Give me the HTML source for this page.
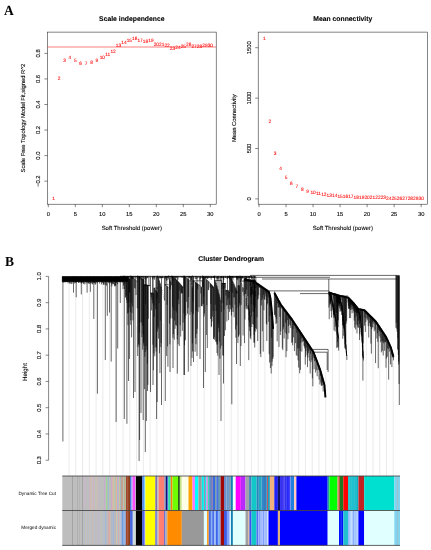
<!DOCTYPE html>
<html lang="en">
<head>
<meta charset="utf-8">
<title>WGCNA soft threshold and cluster dendrogram</title>
<style>
html,body{margin:0;padding:0;background:#fff;}
body{width:431px;height:550px;overflow:hidden;}
svg{display:block;filter:blur(0.22px);}
text{white-space:pre;text-rendering:geometricPrecision;}
</style>
</head>
<body>
<svg width="431" height="550" viewBox="0 0 431 550">
<rect width="431" height="550" fill="#fff"/>
<g font-family='"Liberation Sans", sans-serif' fill="#000" stroke="#000" stroke-width="0.1" paint-order="stroke">
<rect x="47.40" y="32.10" width="168.80" height="172.10" fill="none" stroke="#222" stroke-width="0.55"/>
<line x1="48.30" y1="204.20" x2="48.30" y2="207.20" stroke="#222" stroke-width="0.55"/>
<text x="48.30" y="215.90" font-size="5.8" text-anchor="middle">0</text>
<line x1="75.30" y1="204.20" x2="75.30" y2="207.20" stroke="#222" stroke-width="0.55"/>
<text x="75.30" y="215.90" font-size="5.8" text-anchor="middle">5</text>
<line x1="102.30" y1="204.20" x2="102.30" y2="207.20" stroke="#222" stroke-width="0.55"/>
<text x="102.30" y="215.90" font-size="5.8" text-anchor="middle">10</text>
<line x1="129.30" y1="204.20" x2="129.30" y2="207.20" stroke="#222" stroke-width="0.55"/>
<text x="129.30" y="215.90" font-size="5.8" text-anchor="middle">15</text>
<line x1="156.30" y1="204.20" x2="156.30" y2="207.20" stroke="#222" stroke-width="0.55"/>
<text x="156.30" y="215.90" font-size="5.8" text-anchor="middle">20</text>
<line x1="183.30" y1="204.20" x2="183.30" y2="207.20" stroke="#222" stroke-width="0.55"/>
<text x="183.30" y="215.90" font-size="5.8" text-anchor="middle">25</text>
<line x1="210.30" y1="204.20" x2="210.30" y2="207.20" stroke="#222" stroke-width="0.55"/>
<text x="210.30" y="215.90" font-size="5.8" text-anchor="middle">30</text>
<line x1="44.40" y1="53.40" x2="47.40" y2="53.40" stroke="#222" stroke-width="0.55"/>
<text transform="translate(39.80,53.40) rotate(-90)" font-size="5.8" text-anchor="middle">0.8</text>
<line x1="44.40" y1="78.95" x2="47.40" y2="78.95" stroke="#222" stroke-width="0.55"/>
<text transform="translate(39.80,78.95) rotate(-90)" font-size="5.8" text-anchor="middle">0.6</text>
<line x1="44.40" y1="104.50" x2="47.40" y2="104.50" stroke="#222" stroke-width="0.55"/>
<text transform="translate(39.80,104.50) rotate(-90)" font-size="5.8" text-anchor="middle">0.4</text>
<line x1="44.40" y1="130.05" x2="47.40" y2="130.05" stroke="#222" stroke-width="0.55"/>
<text transform="translate(39.80,130.05) rotate(-90)" font-size="5.8" text-anchor="middle">0.2</text>
<line x1="44.40" y1="155.60" x2="47.40" y2="155.60" stroke="#222" stroke-width="0.55"/>
<text transform="translate(39.80,155.60) rotate(-90)" font-size="5.8" text-anchor="middle">0.0</text>
<line x1="44.40" y1="181.15" x2="47.40" y2="181.15" stroke="#222" stroke-width="0.55"/>
<text transform="translate(39.80,181.15) rotate(-90)" font-size="5.8" text-anchor="middle">−0.2</text>
<text x="131.80" y="21.2" font-size="6.8" font-weight="bold" text-anchor="middle">Scale independence</text>
<text x="131.80" y="229.5" font-size="5.95" text-anchor="middle">Soft Threshold (power)</text>
<text transform="translate(25.20,118.15) rotate(-90)" font-size="5.8" text-anchor="middle">Scale Free Topology Model Fit,signed R^2</text>
<line x1="47.40" y1="47.00" x2="216.20" y2="47.00" stroke="#ff2a2a" stroke-width="0.6"/>
<text x="53.70" y="199.55" font-size="4.8" fill="#ff0808" stroke="#ff0808" stroke-width="0.08" text-anchor="middle">1</text>
<text x="59.10" y="80.05" font-size="4.8" fill="#ff0808" stroke="#ff0808" stroke-width="0.08" text-anchor="middle">2</text>
<text x="64.50" y="61.55" font-size="4.8" fill="#ff0808" stroke="#ff0808" stroke-width="0.08" text-anchor="middle">3</text>
<text x="69.90" y="58.55" font-size="4.8" fill="#ff0808" stroke="#ff0808" stroke-width="0.08" text-anchor="middle">4</text>
<text x="75.30" y="62.25" font-size="4.8" fill="#ff0808" stroke="#ff0808" stroke-width="0.08" text-anchor="middle">5</text>
<text x="80.70" y="64.95" font-size="4.8" fill="#ff0808" stroke="#ff0808" stroke-width="0.08" text-anchor="middle">6</text>
<text x="86.10" y="65.25" font-size="4.8" fill="#ff0808" stroke="#ff0808" stroke-width="0.08" text-anchor="middle">7</text>
<text x="91.50" y="64.05" font-size="4.8" fill="#ff0808" stroke="#ff0808" stroke-width="0.08" text-anchor="middle">8</text>
<text x="96.90" y="61.65" font-size="4.8" fill="#ff0808" stroke="#ff0808" stroke-width="0.08" text-anchor="middle">9</text>
<text x="102.30" y="58.75" font-size="4.8" fill="#ff0808" stroke="#ff0808" stroke-width="0.08" text-anchor="middle">10</text>
<text x="107.70" y="55.95" font-size="4.8" fill="#ff0808" stroke="#ff0808" stroke-width="0.08" text-anchor="middle">11</text>
<text x="113.10" y="52.95" font-size="4.8" fill="#ff0808" stroke="#ff0808" stroke-width="0.08" text-anchor="middle">12</text>
<text x="118.50" y="47.45" font-size="4.8" fill="#ff0808" stroke="#ff0808" stroke-width="0.08" text-anchor="middle">13</text>
<text x="123.90" y="44.15" font-size="4.8" fill="#ff0808" stroke="#ff0808" stroke-width="0.08" text-anchor="middle">14</text>
<text x="129.30" y="42.45" font-size="4.8" fill="#ff0808" stroke="#ff0808" stroke-width="0.08" text-anchor="middle">15</text>
<text x="134.70" y="40.45" font-size="4.8" fill="#ff0808" stroke="#ff0808" stroke-width="0.08" text-anchor="middle">16</text>
<text x="140.10" y="42.45" font-size="4.8" fill="#ff0808" stroke="#ff0808" stroke-width="0.08" text-anchor="middle">17</text>
<text x="145.50" y="43.45" font-size="4.8" fill="#ff0808" stroke="#ff0808" stroke-width="0.08" text-anchor="middle">18</text>
<text x="150.90" y="41.95" font-size="4.8" fill="#ff0808" stroke="#ff0808" stroke-width="0.08" text-anchor="middle">19</text>
<text x="156.30" y="45.65" font-size="4.8" fill="#ff0808" stroke="#ff0808" stroke-width="0.08" text-anchor="middle">20</text>
<text x="161.70" y="46.45" font-size="4.8" fill="#ff0808" stroke="#ff0808" stroke-width="0.08" text-anchor="middle">21</text>
<text x="167.10" y="47.45" font-size="4.8" fill="#ff0808" stroke="#ff0808" stroke-width="0.08" text-anchor="middle">22</text>
<text x="172.50" y="49.95" font-size="4.8" fill="#ff0808" stroke="#ff0808" stroke-width="0.08" text-anchor="middle">23</text>
<text x="177.90" y="48.95" font-size="4.8" fill="#ff0808" stroke="#ff0808" stroke-width="0.08" text-anchor="middle">24</text>
<text x="183.30" y="48.15" font-size="4.8" fill="#ff0808" stroke="#ff0808" stroke-width="0.08" text-anchor="middle">25</text>
<text x="188.70" y="46.45" font-size="4.8" fill="#ff0808" stroke="#ff0808" stroke-width="0.08" text-anchor="middle">26</text>
<text x="194.10" y="47.95" font-size="4.8" fill="#ff0808" stroke="#ff0808" stroke-width="0.08" text-anchor="middle">27</text>
<text x="199.50" y="47.95" font-size="4.8" fill="#ff0808" stroke="#ff0808" stroke-width="0.08" text-anchor="middle">28</text>
<text x="204.90" y="47.25" font-size="4.8" fill="#ff0808" stroke="#ff0808" stroke-width="0.08" text-anchor="middle">29</text>
<text x="210.30" y="47.25" font-size="4.8" fill="#ff0808" stroke="#ff0808" stroke-width="0.08" text-anchor="middle">30</text>
<rect x="258.20" y="32.10" width="169.20" height="172.10" fill="none" stroke="#222" stroke-width="0.55"/>
<line x1="259.00" y1="204.20" x2="259.00" y2="207.20" stroke="#222" stroke-width="0.55"/>
<text x="259.00" y="215.90" font-size="5.8" text-anchor="middle">0</text>
<line x1="286.02" y1="204.20" x2="286.02" y2="207.20" stroke="#222" stroke-width="0.55"/>
<text x="286.02" y="215.90" font-size="5.8" text-anchor="middle">5</text>
<line x1="313.05" y1="204.20" x2="313.05" y2="207.20" stroke="#222" stroke-width="0.55"/>
<text x="313.05" y="215.90" font-size="5.8" text-anchor="middle">10</text>
<line x1="340.07" y1="204.20" x2="340.07" y2="207.20" stroke="#222" stroke-width="0.55"/>
<text x="340.07" y="215.90" font-size="5.8" text-anchor="middle">15</text>
<line x1="367.10" y1="204.20" x2="367.10" y2="207.20" stroke="#222" stroke-width="0.55"/>
<text x="367.10" y="215.90" font-size="5.8" text-anchor="middle">20</text>
<line x1="394.12" y1="204.20" x2="394.12" y2="207.20" stroke="#222" stroke-width="0.55"/>
<text x="394.12" y="215.90" font-size="5.8" text-anchor="middle">25</text>
<line x1="421.15" y1="204.20" x2="421.15" y2="207.20" stroke="#222" stroke-width="0.55"/>
<text x="421.15" y="215.90" font-size="5.8" text-anchor="middle">30</text>
<line x1="255.20" y1="198.90" x2="258.20" y2="198.90" stroke="#222" stroke-width="0.55"/>
<text transform="translate(250.60,198.90) rotate(-90)" font-size="5.8" text-anchor="middle">0</text>
<line x1="255.20" y1="148.50" x2="258.20" y2="148.50" stroke="#222" stroke-width="0.55"/>
<text transform="translate(250.60,148.50) rotate(-90)" font-size="5.8" text-anchor="middle">500</text>
<line x1="255.20" y1="98.10" x2="258.20" y2="98.10" stroke="#222" stroke-width="0.55"/>
<text transform="translate(250.60,98.10) rotate(-90)" font-size="5.8" text-anchor="middle">1000</text>
<line x1="255.20" y1="47.70" x2="258.20" y2="47.70" stroke="#222" stroke-width="0.55"/>
<text transform="translate(250.60,47.70) rotate(-90)" font-size="5.8" text-anchor="middle">1500</text>
<text x="342.80" y="21.2" font-size="6.8" font-weight="bold" text-anchor="middle">Mean connectivity</text>
<text x="342.80" y="229.5" font-size="5.95" text-anchor="middle">Soft Threshold (power)</text>
<text transform="translate(236.00,118.15) rotate(-90)" font-size="5.8" text-anchor="middle">Mean Connectivity</text>
<text x="264.40" y="40.45" font-size="4.8" fill="#ff0808" stroke="#ff0808" stroke-width="0.08" text-anchor="middle">1</text>
<text x="269.81" y="122.65" font-size="4.8" fill="#ff0808" stroke="#ff0808" stroke-width="0.08" text-anchor="middle">2</text>
<text x="275.21" y="154.95" font-size="4.8" fill="#ff0808" stroke="#ff0808" stroke-width="0.08" text-anchor="middle">3</text>
<text x="280.62" y="169.95" font-size="4.8" fill="#ff0808" stroke="#ff0808" stroke-width="0.08" text-anchor="middle">4</text>
<text x="286.02" y="178.65" font-size="4.8" fill="#ff0808" stroke="#ff0808" stroke-width="0.08" text-anchor="middle">5</text>
<text x="291.43" y="184.55" font-size="4.8" fill="#ff0808" stroke="#ff0808" stroke-width="0.08" text-anchor="middle">6</text>
<text x="296.83" y="188.05" font-size="4.8" fill="#ff0808" stroke="#ff0808" stroke-width="0.08" text-anchor="middle">7</text>
<text x="302.24" y="190.65" font-size="4.8" fill="#ff0808" stroke="#ff0808" stroke-width="0.08" text-anchor="middle">8</text>
<text x="307.64" y="192.65" font-size="4.8" fill="#ff0808" stroke="#ff0808" stroke-width="0.08" text-anchor="middle">9</text>
<text x="313.05" y="193.95" font-size="4.8" fill="#ff0808" stroke="#ff0808" stroke-width="0.08" text-anchor="middle">10</text>
<text x="318.45" y="195.25" font-size="4.8" fill="#ff0808" stroke="#ff0808" stroke-width="0.08" text-anchor="middle">11</text>
<text x="323.86" y="195.75" font-size="4.8" fill="#ff0808" stroke="#ff0808" stroke-width="0.08" text-anchor="middle">12</text>
<text x="329.26" y="196.75" font-size="4.8" fill="#ff0808" stroke="#ff0808" stroke-width="0.08" text-anchor="middle">13</text>
<text x="334.67" y="197.05" font-size="4.8" fill="#ff0808" stroke="#ff0808" stroke-width="0.08" text-anchor="middle">14</text>
<text x="340.07" y="197.55" font-size="4.8" fill="#ff0808" stroke="#ff0808" stroke-width="0.08" text-anchor="middle">15</text>
<text x="345.48" y="198.05" font-size="4.8" fill="#ff0808" stroke="#ff0808" stroke-width="0.08" text-anchor="middle">16</text>
<text x="350.88" y="198.25" font-size="4.8" fill="#ff0808" stroke="#ff0808" stroke-width="0.08" text-anchor="middle">17</text>
<text x="356.29" y="198.55" font-size="4.8" fill="#ff0808" stroke="#ff0808" stroke-width="0.08" text-anchor="middle">18</text>
<text x="361.69" y="198.55" font-size="4.8" fill="#ff0808" stroke="#ff0808" stroke-width="0.08" text-anchor="middle">19</text>
<text x="367.10" y="199.05" font-size="4.8" fill="#ff0808" stroke="#ff0808" stroke-width="0.08" text-anchor="middle">20</text>
<text x="372.50" y="199.15" font-size="4.8" fill="#ff0808" stroke="#ff0808" stroke-width="0.08" text-anchor="middle">21</text>
<text x="377.91" y="199.25" font-size="4.8" fill="#ff0808" stroke="#ff0808" stroke-width="0.08" text-anchor="middle">22</text>
<text x="383.31" y="199.35" font-size="4.8" fill="#ff0808" stroke="#ff0808" stroke-width="0.08" text-anchor="middle">23</text>
<text x="388.72" y="199.65" font-size="4.8" fill="#ff0808" stroke="#ff0808" stroke-width="0.08" text-anchor="middle">24</text>
<text x="394.12" y="199.65" font-size="4.8" fill="#ff0808" stroke="#ff0808" stroke-width="0.08" text-anchor="middle">25</text>
<text x="399.53" y="199.65" font-size="4.8" fill="#ff0808" stroke="#ff0808" stroke-width="0.08" text-anchor="middle">26</text>
<text x="404.94" y="199.65" font-size="4.8" fill="#ff0808" stroke="#ff0808" stroke-width="0.08" text-anchor="middle">27</text>
<text x="410.34" y="199.65" font-size="4.8" fill="#ff0808" stroke="#ff0808" stroke-width="0.08" text-anchor="middle">28</text>
<text x="415.75" y="199.65" font-size="4.8" fill="#ff0808" stroke="#ff0808" stroke-width="0.08" text-anchor="middle">29</text>
<text x="421.15" y="199.65" font-size="4.8" fill="#ff0808" stroke="#ff0808" stroke-width="0.08" text-anchor="middle">30</text>
</g>
<text transform="translate(4.0,15.0) scale(0.97,1)" font-family='"Liberation Serif", serif' font-weight="bold" font-size="13.9" fill="#000">A</text>
<text transform="translate(4.9,265.6) scale(0.97,1)" font-family='"Liberation Serif", serif' font-weight="bold" font-size="13.9" fill="#000">B</text>
<g font-family='"Liberation Sans", sans-serif' fill="#000" stroke="#000" stroke-width="0.1" paint-order="stroke">
<text x="231.2" y="260.9" font-size="6.8" font-weight="bold" text-anchor="middle">Cluster Dendrogram</text>
<line x1="48.6" y1="276.4" x2="48.6" y2="460.22" stroke="#222" stroke-width="0.55"/>
<line x1="45.6" y1="276.40" x2="48.6" y2="276.40" stroke="#222" stroke-width="0.55"/>
<text transform="translate(40.9,276.40) rotate(-90)" font-size="5.8" text-anchor="middle">1.0</text>
<line x1="45.6" y1="302.66" x2="48.6" y2="302.66" stroke="#222" stroke-width="0.55"/>
<text transform="translate(40.9,302.66) rotate(-90)" font-size="5.8" text-anchor="middle">0.9</text>
<line x1="45.6" y1="328.92" x2="48.6" y2="328.92" stroke="#222" stroke-width="0.55"/>
<text transform="translate(40.9,328.92) rotate(-90)" font-size="5.8" text-anchor="middle">0.8</text>
<line x1="45.6" y1="355.18" x2="48.6" y2="355.18" stroke="#222" stroke-width="0.55"/>
<text transform="translate(40.9,355.18) rotate(-90)" font-size="5.8" text-anchor="middle">0.7</text>
<line x1="45.6" y1="381.44" x2="48.6" y2="381.44" stroke="#222" stroke-width="0.55"/>
<text transform="translate(40.9,381.44) rotate(-90)" font-size="5.8" text-anchor="middle">0.6</text>
<line x1="45.6" y1="407.70" x2="48.6" y2="407.70" stroke="#222" stroke-width="0.55"/>
<text transform="translate(40.9,407.70) rotate(-90)" font-size="5.8" text-anchor="middle">0.5</text>
<line x1="45.6" y1="433.96" x2="48.6" y2="433.96" stroke="#222" stroke-width="0.55"/>
<text transform="translate(40.9,433.96) rotate(-90)" font-size="5.8" text-anchor="middle">0.4</text>
<line x1="45.6" y1="460.22" x2="48.6" y2="460.22" stroke="#222" stroke-width="0.55"/>
<text transform="translate(40.9,460.22) rotate(-90)" font-size="5.8" text-anchor="middle">0.3</text>
<text transform="translate(27.4,372) rotate(-90)" font-size="6.15" text-anchor="middle">Height</text>
<text x="56.0" y="494.6" font-size="4.7" stroke="none" text-anchor="end">Dynamic Tree Cut</text>
<text x="56.0" y="529.0" font-size="4.7" stroke="none" text-anchor="end">Merged dynamic</text>
</g>
<path d="M69.05 282.0V475.5M75.81 282.0V475.5M82.56 282.0V475.5M89.32 282.0V475.5M96.07 282.0V475.5M102.82 282.0V475.5M109.58 282.0V475.5M116.33 282.0V475.5M123.09 282.0V475.5M129.84 306.7V475.5M136.59 326.2V475.5M143.35 331.0V475.5M150.10 321.1V475.5M156.86 323.1V475.5M163.61 324.0V475.5M170.36 314.6V475.5M177.12 312.3V475.5M183.87 310.3V475.5M190.63 312.8V475.5M197.38 299.9V475.5M204.13 300.0V475.5M210.89 309.0V475.5M217.64 310.4V475.5M224.40 308.8V475.5M231.15 307.1V475.5M237.90 306.2V475.5M244.66 300.0V475.5M251.41 300.0V475.5M258.17 298.7V475.5M264.92 303.4V475.5M271.67 323.7V475.5M278.43 308.4V475.5M285.18 318.7V475.5M291.94 327.7V475.5M298.69 337.9V475.5M305.44 348.2V475.5M312.20 358.4V475.5M318.95 374.7V475.5M325.71 372.0V475.5M332.46 311.8V475.5M339.21 307.2V475.5M345.97 356.7V475.5M352.72 309.7V475.5M359.48 321.7V475.5M366.23 319.3V475.5M372.98 326.0V475.5M379.74 334.6V475.5M386.49 345.0V475.5M393.25 363.0V475.5" stroke="#d6d6d6" stroke-width="0.5" fill="none"/>
<path d="M62.30 276.40V282.03M62.75 276.40V281.85M63.20 276.40V282.74M63.65 276.40V281.81M64.10 276.40V282.45M64.55 276.40V282.10M65.00 276.40V281.81M65.45 276.40V282.39M65.90 276.40V281.80M66.35 276.40V282.23M66.80 276.40V281.81M67.25 276.40V281.82M67.70 276.40V282.22M68.15 276.40V283.41M68.60 276.40V281.84M69.05 276.40V281.92M69.50 276.40V282.74M69.95 276.40V283.96M70.40 276.40V282.60M70.85 276.40V282.18M71.30 276.40V284.12M71.75 276.40V281.81M72.20 276.40V283.61M72.65 276.40V282.01M73.10 276.40V281.85M73.55 276.40V281.83M74.00 276.40V282.04M74.45 276.40V283.48M74.90 276.40V281.88M75.35 276.40V282.66M75.80 276.40V282.84M76.25 276.40V282.16M76.70 276.40V282.57M77.15 276.40V281.81M77.60 276.40V281.81M78.05 276.40V281.91M78.50 276.40V283.02M78.95 276.40V282.28M79.40 276.40V282.06M79.85 276.40V282.71M80.30 276.40V282.35M80.75 276.40V282.04M81.20 276.40V283.50M81.65 276.40V283.13M82.10 276.40V281.96M82.55 276.40V282.70M83.00 276.40V282.56M83.45 276.40V283.91M83.90 276.40V283.28M84.35 276.40V282.03M84.80 276.40V284.49M85.25 276.40V281.84M85.70 276.40V282.29M86.15 276.40V283.42M86.60 276.40V281.87M87.05 276.40V282.48M87.50 276.40V281.80M87.95 276.40V283.09M88.40 276.40V283.49M88.85 276.40V282.75M89.30 276.40V284.04M89.75 276.40V282.09M90.20 276.40V283.22M90.65 276.40V282.84M91.10 276.40V282.80M91.55 276.40V282.42M92.00 276.40V283.91M92.45 276.40V284.48M92.90 276.40V282.48M93.35 276.40V283.13M93.80 276.40V281.81M94.25 276.40V283.30M94.70 276.40V283.08M95.15 276.40V284.83M95.60 276.40V283.88M96.05 276.40V282.05M96.50 276.40V282.26M96.95 276.40V283.19M97.40 276.40V281.80M97.85 276.40V282.47M98.30 276.40V281.89M98.75 276.40V281.84M99.20 276.40V281.81M99.65 276.40V283.68M100.10 276.40V281.85M100.55 276.40V282.00M101.00 276.40V282.31M101.45 276.40V284.41M101.90 276.40V281.82M102.35 276.40V282.52M102.80 276.40V282.91M103.25 276.40V284.72M103.70 276.40V284.36M104.15 276.40V284.71M104.60 276.40V282.11M105.05 276.40V282.50M105.50 276.40V282.33M105.95 276.40V285.08M106.40 276.40V285.71M106.85 276.40V281.90M107.30 276.40V281.94M107.75 276.40V282.04M108.20 276.40V282.05M108.65 276.40V282.89M109.10 276.40V283.44M109.55 276.40V282.13M110.00 276.40V281.80M110.45 276.40V282.67M110.90 276.40V282.48M111.35 276.40V283.43M111.80 276.40V286.49M112.25 276.40V284.30M112.70 276.40V283.21M113.15 276.40V283.86M113.60 276.40V284.30M114.05 276.40V281.82M114.50 276.40V286.34M114.95 276.40V285.26M115.40 276.40V286.21M115.85 276.40V285.52M116.30 276.40V282.71M116.75 276.40V282.75M117.20 276.40V281.87M117.65 276.40V284.27M118.10 276.40V281.82M118.55 276.40V281.83M119.00 276.40V282.10M119.45 276.40V281.99M119.90 276.40V282.66M120.35 276.40V281.82M120.80 276.40V281.80M121.25 276.40V281.99M121.70 276.40V281.89M122.15 276.40V282.99M122.60 276.40V281.81M123.05 276.40V289.11M123.50 276.40V285.52M123.95 276.40V282.02M124.00 276.70H130.75M124.00 275.50V276.70M130.55 276.70V279.71M124.53 276.62V288.95M124.00 276.70H124.53M124.93 276.75V283.71M124.53 276.82H124.93M125.33 276.90V297.40M124.93 276.95H125.33M125.73 277.07V297.62M125.33 277.10H125.73M126.26 277.31V295.51M125.73 277.27H126.26M126.63 277.49V300.27M126.26 277.51H126.63M127.02 277.68V303.07M126.63 277.69H127.02M127.50 277.93V313.47M127.02 277.88H127.50M127.96 278.18V325.12M127.50 278.13H127.96M128.40 278.42V312.61M127.96 278.38H128.40M128.80 278.65V302.01M128.40 278.62H128.80M129.16 278.86V307.59M128.80 278.85H129.16M129.50 279.07V292.03M129.16 279.06H129.50M129.95 279.34V292.94M129.50 279.27H129.95M130.30 279.56V312.22M129.95 279.54H130.30M130.72 279.83V324.76M130.30 279.76H130.72M130.75 276.70H137.68M130.75 275.50V276.70M137.48 276.70V281.89M130.75 276.50V320.15M131.23 276.68V303.09M130.75 276.70H131.23M131.59 276.87V337.38M131.23 276.88H131.59M131.97 277.11V313.12M131.59 277.07H131.97M132.41 277.40V306.49M131.97 277.31H132.41M132.93 277.78V320.43M132.41 277.60H132.93M132.93 277.98H133.35M133.35 278.31H133.78M133.78 278.67H134.28M134.68 279.25V287.77M134.28 279.10H134.68M135.15 279.70V288.59M134.68 279.45H135.15M135.15 279.90H135.65M136.03 280.55V295.06M135.65 280.38H136.03M136.03 280.75H136.45M136.45 281.17H136.89M137.29 281.85V308.29M136.89 281.62H137.29M137.68 276.70H143.93M137.68 275.50V276.70M143.73 276.70V279.79M137.68 276.50V355.99M138.07 276.59V347.09M137.68 276.70H138.07M138.60 276.78V344.17M138.07 276.79H138.60M139.10 277.00V345.18M138.60 276.98H139.10M139.59 277.23V332.76M139.10 277.20H139.59M139.97 277.43V322.57M139.59 277.43H139.97M139.97 277.63H140.47M140.47 277.90H140.94M141.38 278.24V322.34M140.94 278.17H141.38M141.85 278.53V337.12M141.38 278.44H141.85M142.37 278.86V325.57M141.85 278.73H142.37M142.71 279.09V349.64M142.37 279.06H142.71M143.12 279.36V333.92M142.71 279.29H143.12M143.45 279.59V343.42M143.12 279.56H143.45M143.83 279.86V341.55M143.45 279.79H143.83M145.38 276.40V284.93M143.93 284.93H147.50M143.93 284.73V345.74M144.41 284.76V389.17M143.93 284.93H144.41M144.82 284.80V356.68M144.41 284.96H144.82M145.30 284.86V352.06M144.82 285.00H145.30M145.65 284.90V304.15M145.30 285.06H145.65M146.12 284.97V346.01M145.65 285.10H146.12M146.12 285.17H146.46M146.93 285.09V350.00M146.46 285.22H146.93M147.36 285.16V363.68M146.93 285.29H147.36M148.92 276.40V285.45M147.50 285.45H150.32M147.50 285.25V391.01M147.90 285.29V384.89M147.50 285.45H147.90M148.25 285.34V318.84M147.90 285.49H148.25M148.25 285.54H148.63M148.63 285.59H149.02M149.02 285.66H149.52M149.52 285.75H149.99M152.74 276.40V293.15M150.32 293.15H153.92M150.32 293.15H150.72M151.13 293.05V296.99M150.72 293.19H151.13M151.48 293.11V310.38M151.13 293.25H151.48M151.99 293.21V299.63M151.48 293.31H151.99M152.43 293.31V303.41M151.99 293.41H152.43M152.95 293.43V344.71M152.43 293.51H152.95M153.40 293.54V370.29M152.95 293.63H153.40M153.84 293.65V353.54M153.40 293.74H153.84M155.97 276.40V288.20M153.92 288.20H157.86M153.92 288.00V305.47M154.31 288.27V316.87M153.92 288.20H154.31M154.77 288.74V356.29M154.31 288.47H154.77M155.20 289.26V347.44M154.77 288.94H155.20M155.65 289.88V309.27M155.20 289.46H155.65M156.15 290.61V351.54M155.65 290.08H156.15M156.54 291.22V347.33M156.15 290.81H156.54M156.98 291.95V298.37M156.54 291.42H156.98M157.42 292.70V331.61M156.98 292.15H157.42M157.86 277.47H164.74M157.86 275.50V277.47M164.54 277.47V300.51M157.86 277.27V326.82M158.20 277.78V328.74M157.86 277.47H158.20M158.55 278.57V338.70M158.20 277.98H158.55M159.06 279.91V303.15M158.55 278.77H159.06M159.44 281.04V353.22M159.06 280.11H159.44M159.96 282.74V373.11M159.44 281.24H159.96M160.29 283.89V320.67M159.96 282.94H160.29M160.80 285.75V347.13M160.29 284.09H160.80M161.13 287.00V342.96M160.80 285.95H161.13M161.13 287.20H161.63M161.63 289.16H161.98M161.98 290.60H162.50M162.50 292.79H162.92M162.92 294.62H163.29M163.29 296.30H163.65M163.65 297.91H164.00M164.00 299.55H164.41M166.74 276.40V284.79M164.74 284.79H168.59M164.74 284.79H165.09M165.09 284.93H165.43M165.43 285.13H165.86M165.86 285.42H166.27M166.61 285.83V355.95M166.27 285.74H166.61M167.10 286.26V304.87M166.61 286.03H167.10M167.48 286.62V346.40M167.10 286.46H167.48M167.93 287.07V366.76M167.48 286.82H167.93M167.93 287.27H168.36M168.59 276.70H171.81M168.59 275.50V276.70M171.61 276.70V285.28M168.59 276.70H169.07M169.44 278.18V323.64M169.07 277.50H169.44M169.90 279.46V344.35M169.44 278.38H169.90M170.30 280.68V289.21M169.90 279.66H170.30M170.68 281.95V318.47M170.30 280.88H170.68M170.68 282.15H171.21M171.21 283.99H171.70M171.81 276.76H184.00M171.81 275.50V276.76M183.80 276.76V287.54M172.23 276.71V318.25M171.81 276.76H172.23M172.60 276.90V306.83M172.23 276.91H172.60M173.00 277.15V337.89M172.60 277.10H173.00M173.34 277.37V334.16M173.00 277.35H173.34M173.86 277.74V310.07M173.34 277.57H173.86M174.30 278.09V339.73M173.86 277.94H174.30M174.65 278.36V320.65M174.30 278.29H174.65M175.12 278.76V328.75M174.65 278.56H175.12M175.61 279.19V325.02M175.12 278.96H175.61M175.97 279.52V310.81M175.61 279.39H175.97M176.48 280.01V325.65M175.97 279.72H176.48M176.84 280.35V312.54M176.48 280.21H176.84M177.26 280.77V339.43M176.84 280.55H177.26M177.70 281.21V335.17M177.26 280.97H177.70M178.11 281.64V344.25M177.70 281.41H178.11M178.55 282.10V299.38M178.11 281.84H178.55M178.90 282.48V304.27M178.55 282.30H178.90M179.27 282.89V346.02M178.90 282.68H179.27M179.79 283.47V290.67M179.27 283.09H179.79M180.22 283.95V325.18M179.79 283.67H180.22M180.65 284.46V336.58M180.22 284.15H180.65M181.14 285.02V293.48M180.65 284.66H181.14M181.52 285.48V293.23M181.14 285.22H181.52M181.94 285.98V292.85M181.52 285.68H181.94M182.33 286.45V330.91M181.94 286.18H182.33M182.67 286.87V293.52M182.33 286.65H182.67M183.11 287.41V322.62M182.67 287.07H183.11M183.11 287.61H183.53M184.00 276.70H190.84M184.00 275.50V276.70M190.64 276.70V281.54M184.00 276.50V313.48M184.45 276.65V345.16M184.00 276.70H184.45M184.95 276.91V318.47M184.45 276.85H184.95M185.44 277.21V340.31M184.95 277.11H185.44M185.89 277.51V315.53M185.44 277.41H185.89M185.89 277.71H186.29M186.74 278.13V301.89M186.29 277.99H186.74M186.74 278.33H187.13M187.50 278.75V313.68M187.13 278.65H187.50M187.50 278.95H187.86M188.20 279.35V307.79M187.86 279.25H188.20M188.62 279.72V297.07M188.20 279.55H188.62M188.62 279.92H189.14M189.14 280.40H189.55M189.92 280.95V314.96M189.55 280.79H189.92M189.92 281.15H190.43M191.60 276.40V283.39M190.84 283.39H192.49M191.21 283.88V312.35M190.84 283.39H191.21M191.21 284.08H191.55M192.04 286.40V357.95M191.55 285.01H192.04M192.38 287.63V343.40M192.04 286.60H192.38M192.49 280.82H202.57M192.49 275.50V280.82M202.37 280.82V287.91M192.49 280.62V351.43M192.94 280.76V301.22M192.49 280.82H192.94M193.38 280.96V313.83M192.94 280.96H193.38M193.38 281.16H193.74M193.74 281.35H194.24M194.24 281.63H194.70M195.12 282.00V351.78M194.70 281.92H195.12M195.58 282.32V338.05M195.12 282.20H195.58M195.99 282.61V344.18M195.58 282.52H195.99M196.36 282.89V310.84M195.99 282.81H196.36M196.78 283.22V333.92M196.36 283.09H196.78M197.27 283.61V328.81M196.78 283.42H197.27M197.68 283.95V289.35M197.27 283.81H197.68M198.09 284.29V312.08M197.68 284.15H198.09M198.09 284.49H198.55M199.06 285.14V307.25M198.55 284.88H199.06M199.06 285.34H199.41M199.41 285.65H199.89M199.89 286.09H200.36M200.87 286.81V293.45M200.36 286.53H200.87M201.36 287.29V306.06M200.87 287.01H201.36M201.73 287.66V306.12M201.36 287.49H201.73M202.11 288.03V306.24M201.73 287.86H202.11M202.57 277.12H214.72M202.57 275.50V277.12M214.52 277.12V287.59M202.57 276.92V287.04M202.94 277.04V304.31M202.57 277.12H202.94M203.33 277.23V303.52M202.94 277.24H203.33M203.82 277.52V296.59M203.33 277.43H203.82M204.16 277.74V316.51M203.82 277.72H204.16M204.58 278.04V313.48M204.16 277.94H204.58M204.58 278.24H205.09M205.09 278.62H205.56M205.56 279.00H205.92M206.38 279.49V334.99M205.92 279.30H206.38M206.81 279.88V305.20M206.38 279.69H206.81M207.31 280.34V348.09M206.81 280.08H207.31M207.31 280.54H207.79M208.24 281.24V290.03M207.79 281.00H208.24M208.67 281.67V290.11M208.24 281.44H208.67M208.67 281.87H209.12M209.12 282.32H209.53M210.02 283.08V287.50M209.53 282.76H210.02M210.51 283.62V319.02M210.02 283.28H210.51M210.86 283.99V304.14M210.51 283.82H210.86M211.24 284.42V327.27M210.86 284.19H211.24M211.58 284.81V326.05M211.24 284.62H211.58M212.03 285.32V321.51M211.58 285.01H212.03M212.46 285.83V316.67M212.03 285.52H212.46M212.79 286.22V288.13M212.46 286.03H212.79M213.16 286.65V311.11M212.79 286.42H213.16M213.51 287.08V339.16M213.16 286.85H213.51M213.88 287.52V338.76M213.51 287.28H213.88M214.34 288.09V337.34M213.88 287.72H214.34M214.72 280.61H221.78M214.72 275.50V280.61M221.58 280.61V303.88M214.72 280.41V339.80M215.23 281.27V304.73M214.72 280.61H215.23M215.59 282.13V341.71M215.23 281.47H215.59M216.05 283.38V311.02M215.59 282.33H216.05M216.57 284.95V342.04M216.05 283.58H216.57M216.91 286.06V344.57M216.57 285.15H216.91M217.37 287.67V344.34M216.91 286.26H217.37M217.76 289.08V355.73M217.37 287.87H217.76M218.11 290.39V323.58M217.76 289.28H218.11M218.62 292.38V327.96M218.11 290.59H218.62M218.98 293.84V331.98M218.62 292.58H218.98M219.39 295.53V341.57M218.98 294.04H219.39M219.89 297.67V358.68M219.39 295.73H219.89M220.39 299.86V348.54M219.89 297.87H220.39M220.39 300.06H220.83M221.35 304.22V311.92M220.83 302.02H221.35M223.17 276.40V283.42M221.78 283.42H225.83M221.78 283.22V345.87M222.14 283.23V289.12M221.78 283.42H222.14M222.61 283.24V355.36M222.14 283.43H222.61M223.08 283.26V303.18M222.61 283.44H223.08M223.49 283.28V355.79M223.08 283.46H223.49M223.99 283.30V309.50M223.49 283.48H223.99M224.51 283.32V335.95M223.99 283.50H224.51M224.88 283.34V287.89M224.51 283.52H224.88M225.38 283.36V330.24M224.88 283.54H225.38M227.45 276.40V290.45M225.83 290.45H229.55M225.83 290.25V295.57M226.35 290.38V305.54M225.83 290.45H226.35M226.86 290.58V321.46M226.35 290.58H226.86M227.28 290.77V305.04M226.86 290.78H227.28M227.77 291.01V299.44M227.28 290.97H227.77M228.12 291.19V308.80M227.77 291.21H228.12M228.56 291.43V320.09M228.12 291.39H228.56M229.01 291.69V297.28M228.56 291.63H229.01M229.44 291.95V304.80M229.01 291.89H229.44M229.55 276.70H238.04M229.55 275.50V276.70M237.84 276.70V292.70M229.55 276.50V311.86M230.07 276.97V291.84M229.55 276.70H230.07M230.54 277.59V309.31M230.07 277.17H230.54M230.99 278.28V305.50M230.54 277.79H230.99M231.46 279.07V315.54M230.99 278.48H231.46M231.86 279.79V311.99M231.46 279.27H231.86M232.37 280.75V307.75M231.86 279.99H232.37M232.71 281.42V292.85M232.37 280.95H232.71M233.22 282.48V311.84M232.71 281.62H233.22M233.72 283.57V297.47M233.22 282.68H233.72M234.16 284.55V317.36M233.72 283.77H234.16M234.62 285.60V297.46M234.16 284.75H234.62M235.12 286.78V304.57M234.62 285.80H235.12M235.54 287.80V329.49M235.12 286.98H235.54M235.89 288.67V337.76M235.54 288.00H235.89M236.27 289.62V293.48M235.89 288.87H236.27M236.74 290.83V325.37M236.27 289.82H236.74M237.10 291.77V293.99M236.74 291.03H237.10M237.10 291.97H237.53M237.90 293.92V342.97M237.53 293.13H237.90M238.82 276.40V285.63M238.04 285.63H239.95M238.04 285.43V307.47M238.42 285.65V336.96M238.04 285.63H238.42M238.76 285.93V335.88M238.42 285.85H238.76M239.13 286.29V334.58M238.76 286.13H239.13M239.47 286.65V303.26M239.13 286.49H239.47M239.47 286.85H239.80M239.95 281.10H250.80M239.95 275.50V281.10M250.60 281.10V313.01M239.95 280.90V305.76M239.95 281.10H240.31M240.31 281.52H240.82M241.18 282.98V304.73M240.82 282.42H241.18M241.18 283.18H241.68M241.68 284.35H242.19M242.70 286.85V291.90M242.19 285.65H242.70M243.07 287.92V335.53M242.70 287.05H243.07M243.07 288.12H243.44M243.44 289.22H243.82M243.82 290.36H244.22M244.22 291.64H244.75M244.75 293.37H245.22M245.22 294.97H245.63M246.08 297.80V308.75M245.63 296.38H246.08M246.08 298.00H246.48M247.00 301.16V309.25M246.48 299.41H247.00M247.00 301.36H247.52M247.98 304.87V307.86M247.52 303.31H247.98M248.34 306.28V310.04M247.98 305.07H248.34M248.83 308.22V320.30M248.34 306.48H248.83M249.31 310.16V326.64M248.83 308.42H249.31M249.73 311.90V322.16M249.31 310.36H249.73M250.20 313.85V337.91M249.73 312.10H250.20M250.67 315.81V336.18M250.20 314.05H250.67M252.40 276.40V287.40M250.80 287.40H253.64M250.80 287.20V339.35M251.30 287.60V304.03M250.80 287.40H251.30M251.81 288.20V327.00M251.30 287.80H251.81M252.31 288.88V324.01M251.81 288.40H252.31M252.31 289.08H252.64M252.64 289.57H252.99M253.39 290.59V305.11M252.99 290.12H253.39M253.64 276.70H256.00M253.64 275.50V276.70M255.80 276.70V296.56M253.64 276.50V324.51M254.11 279.20V334.86M253.64 276.70H254.11M254.53 282.68V330.69M254.11 279.40H254.53M254.91 286.36V288.41M254.53 282.88H254.91M255.34 290.90V295.24M254.91 286.56H255.34M255.70 294.97V328.12M255.34 291.10H255.70M128.42 276.10V280.02M131.78 276.10V279.12M132.62 276.10V279.02M135.98 276.10V279.45M139.34 276.10V278.47M141.02 276.10V279.96M142.28 276.10V278.67M144.80 276.10V278.93M146.06 276.10V279.47M147.32 276.10V278.17M147.74 276.10V278.01M152.78 276.10V279.23M154.04 276.10V278.00M154.46 276.10V279.70M157.40 276.10V278.17M159.92 276.10V278.87M160.34 276.10V277.94M162.44 276.10V278.35M164.96 276.10V279.15M165.38 276.10V277.97M165.80 276.10V277.90M166.64 276.10V280.70M167.06 276.10V280.17M167.48 276.10V277.90M168.32 276.10V279.51M168.74 276.10V277.91M170.84 276.10V279.09M172.52 276.10V280.69M173.36 276.10V277.90M174.62 276.10V278.19M175.46 276.10V280.12M176.30 276.10V278.31M177.98 276.10V279.81M182.18 276.10V277.91M189.32 276.10V277.90M189.74 276.10V278.44M191.42 276.10V279.98M193.10 276.10V280.07M195.20 276.10V278.82M196.04 276.10V279.59M196.88 276.10V279.00M198.14 276.10V278.09M199.82 276.10V279.85M200.66 276.10V278.91M203.18 276.10V278.01M203.60 276.10V279.37M205.70 276.10V277.91M206.96 276.10V279.10M207.80 276.10V278.97M209.06 276.10V277.90M211.16 276.10V279.72M213.68 276.10V277.90M214.10 276.10V278.00M214.52 276.10V277.91M217.04 276.10V278.97M217.88 276.10V280.66M218.30 276.10V278.86M220.82 276.10V280.70M221.66 276.10V277.90M222.08 276.10V278.27M223.76 276.10V279.76M225.44 276.10V277.96M227.12 276.10V278.95M227.96 276.10V278.21M228.38 276.10V277.95M229.22 276.10V278.07M229.64 276.10V279.28M230.06 276.10V279.44M230.48 276.10V277.90M231.32 276.10V280.52M232.58 276.10V278.50M233.00 276.10V280.49M236.36 276.10V278.05M236.78 276.10V279.43M237.62 276.10V280.17M238.04 276.10V278.41M238.46 276.10V278.12M239.72 276.10V278.62M240.98 276.10V280.77M241.40 276.10V280.30M242.24 276.10V278.58M242.66 276.10V278.10M243.08 276.10V278.30M244.76 276.10V278.15M245.60 276.10V279.48M246.02 276.10V280.77M246.44 276.10V279.85M247.28 276.10V277.90M248.54 276.10V278.47M249.38 276.10V278.88M249.80 276.10V278.00M251.06 276.10V277.92M251.48 276.10V279.01M252.32 276.10V278.03M254.42 276.10V277.91M62.90 276.40V441.50M73.50 276.40V292.70M76.20 276.40V297.30M81.30 276.40V294.50M87.10 276.40V292.70M90.40 276.40V291.80M93.80 276.40V319.00M97.40 276.40V393.70M105.30 276.40V360.00M107.30 276.40V315.80M109.50 276.40V312.50M111.20 276.40V361.60M116.10 276.40V422.00M117.70 276.40V348.50M120.30 276.40V303.00M124.30 276.40V419.00M126.90 276.40V423.80M128.50 276.40V381.00M129.40 276.40V359.00M139.10 276.40V461.00M139.60 276.40V440.00M141.00 276.40V413.00M145.30 276.40V452.00M146.40 276.40V421.00M143.20 276.40V420.00M156.60 276.40V419.00M157.20 276.40V402.00M165.30 276.40V401.00M161.50 276.40V405.00M177.30 276.40V373.60M183.90 276.40V375.00M188.30 276.40V371.70M184.50 276.40V375.00M197.00 276.40V356.00M200.00 276.40V359.00M203.50 276.40V388.00M205.30 276.40V372.00M217.00 276.40V353.00M219.00 276.40V375.00M221.00 276.40V421.00M223.50 276.40V383.50M231.80 276.40V404.30M236.50 276.40V364.00M240.30 276.40V366.00M241.00 276.40V346.00M254.40 276.40V342.50M133.50 276.40V398.00M135.00 276.40V392.00M150.50 276.40V392.00M153.00 276.40V385.00M170.00 276.40V372.00M173.00 276.40V368.00M191.00 276.40V366.00M193.50 276.40V362.00M244.00 278.20V295.50M244.47 278.30V343.10M244.00 278.50H244.47M244.97 278.40V319.48M244.47 278.60H244.97M245.46 278.50V293.96M244.97 278.70H245.46M245.90 278.60V293.79M245.46 278.80H245.90M246.33 278.69V306.21M245.90 278.90H246.33M246.73 278.77V289.74M246.33 278.99H246.73M247.23 278.87V300.96M246.73 279.07H247.23M247.80 278.99V296.17M247.23 279.17H247.80M248.34 279.10V309.60M247.80 279.29H248.34M248.75 279.19V360.11M248.34 279.40H248.75M249.25 279.29V314.86M248.75 279.49H249.25M249.76 279.40V330.99M249.25 279.59H249.76M250.20 279.49V286.02M249.76 279.70H250.20M250.65 279.59V297.11M250.20 279.79H250.65M251.07 279.67V294.86M250.65 279.89H251.07M251.48 279.76V316.64M251.07 279.97H251.48M251.98 279.86V294.52M251.48 280.06H251.98M252.56 279.98V294.50M251.98 280.16H252.56M252.98 280.07V311.73M252.56 280.28H252.98M253.44 280.17V284.92M252.98 280.37H253.44M253.86 280.25V342.71M253.44 280.47H253.86M254.29 280.34V312.00M253.86 280.55H254.29M254.73 280.43V347.56M254.29 280.64H254.73M255.20 280.53V307.16M254.73 280.73H255.20M255.71 280.64V331.57M255.20 280.83H255.71M256.00 281.90V288.26M256.47 282.22V329.17M256.00 282.20H256.47M257.03 282.61V317.24M256.47 282.52H257.03M257.60 283.01V299.88M257.03 282.91H257.60M258.19 283.42V298.74M257.60 283.31H258.19M258.67 283.75V295.25M258.19 283.72H258.67M259.18 284.10V287.80M258.67 284.05H259.18M259.68 284.45V287.52M259.18 284.40H259.68M260.27 284.86V353.83M259.68 284.75H260.27M260.80 285.22V357.08M260.27 285.16H260.80M261.38 285.62V305.55M260.80 285.52H261.38M261.83 285.94V300.07M261.38 285.92H261.83M262.34 286.29V331.26M261.83 286.24H262.34M262.79 286.60V298.24M262.34 286.59H262.79M263.38 287.01V294.80M262.79 286.90H263.38M263.91 287.38V310.24M263.38 287.31H263.91M264.50 287.79V299.31M263.91 287.68H264.50M264.99 288.13V299.98M264.50 288.09H264.99M265.42 288.42V293.64M264.99 288.43H265.42M265.90 288.75V296.56M265.42 288.72H265.90M266.32 289.04V323.62M265.90 289.05H266.32M266.84 289.40V324.63M266.32 289.34H266.84M267.28 289.71V304.48M266.84 289.70H267.28M267.79 290.06V303.22M267.28 290.01H267.79M268.25 290.38V297.51M267.79 290.36H268.25M268.75 290.73V321.84M268.25 290.68H268.75M269.16 291.50V354.28M268.75 291.03H269.16M269.60 293.24V306.34M269.16 291.80H269.60M270.06 295.00V315.96M269.60 293.54H270.06M270.62 297.86V303.68M270.06 295.30H270.62M271.19 303.60V313.61M270.62 298.16H271.19M271.67 308.37V337.59M271.19 303.90H271.67M272.09 312.98V361.50M271.67 308.67H272.09M272.64 320.86V325.53M272.09 313.28H272.64M273.11 327.62V357.31M272.64 321.16H273.11M257.70 283.38V341.00M263.20 287.18V351.60M266.80 289.68V341.00M269.60 293.52V362.50M270.40 296.61V368.00M271.20 304.00V373.50M272.00 312.00V366.00M272.80 323.50V359.00M274.40 291.70V314.82M274.90 292.63V314.91M274.40 292.00H274.90M275.36 293.47V316.69M274.90 292.93H275.36M275.90 294.46V324.01M275.36 293.77H275.90M276.26 295.14V318.67M275.90 294.76H276.26M276.72 295.99V322.99M276.26 295.44H276.72M277.17 296.81V341.32M276.72 296.29H277.17M277.65 297.70V303.40M277.17 297.11H277.65M278.10 298.53V307.74M277.65 298.00H278.10M278.54 299.34V306.96M278.10 298.83H278.54M278.97 300.13V346.94M278.54 299.64H278.97M279.43 300.98V307.62M278.97 300.43H279.43M279.85 301.77V316.83M279.43 301.28H279.85M280.33 302.64V335.04M279.85 302.07H280.33M280.75 303.43V331.34M280.33 302.94H280.75M281.30 304.23V308.54M280.75 303.73H281.30M281.83 304.94V307.17M281.30 304.53H281.83M282.31 305.57V348.39M281.83 305.24H282.31M282.82 306.25V350.15M282.31 305.87H282.82M283.28 306.87V329.33M282.82 306.55H283.28M283.72 307.45V327.05M283.28 307.17H283.72M284.15 308.03V338.46M283.72 307.75H284.15M284.62 308.64V311.87M284.15 308.33H284.62M285.06 309.23V332.70M284.62 308.94H285.06M285.59 309.94V322.74M285.06 309.53H285.59M286.04 310.53V357.20M285.59 310.24H286.04M286.47 311.11V334.16M286.04 310.83H286.47M286.87 311.64V351.11M286.47 311.41H286.87M287.39 312.33V320.20M286.87 311.94H287.39M287.92 313.04V339.23M287.39 312.63H287.92M288.47 313.77V325.89M287.92 313.34H288.47M288.87 314.30V333.13M288.47 314.07H288.87M289.33 314.91V319.21M288.87 314.60H289.33M289.81 315.56V324.54M289.33 315.21H289.81M290.36 316.29V325.67M289.81 315.86H290.36M290.81 316.88V328.00M290.36 316.59H290.81M291.30 317.54V319.78M290.81 317.18H291.30M291.83 318.24V342.96M291.30 317.84H291.83M292.23 318.85V341.88M291.83 318.54H292.23M292.65 319.48V345.29M292.23 319.15H292.65M293.20 320.32V329.02M292.65 319.78H293.20M293.59 320.91V337.36M293.20 320.62H293.59M293.98 321.49V324.81M293.59 321.21H293.98M294.44 322.20V351.10M293.98 321.79H294.44M294.96 322.98V325.85M294.44 322.50H294.96M295.47 323.75V343.16M294.96 323.28H295.47M295.90 324.41V328.47M295.47 324.05H295.90M296.29 324.99V355.14M295.90 324.71H296.29M296.72 325.64V332.81M296.29 325.29H296.72M297.10 326.22V356.00M296.72 325.94H297.10M297.64 327.04V348.41M297.10 326.52H297.64M298.05 327.67V360.39M297.64 327.34H298.05M298.58 328.46V367.58M298.05 327.97H298.58M299.10 329.25V347.97M298.58 328.76H299.10M299.64 330.07V373.28M299.10 329.55H299.64M300.05 330.70V350.90M299.64 330.37H300.05M300.46 331.31V369.93M300.05 331.00H300.46M300.92 332.01V342.78M300.46 331.61H300.92M301.32 332.61V338.63M300.92 332.31H301.32M301.87 333.44V351.67M301.32 332.91H301.87M302.26 334.03V341.92M301.87 333.74H302.26M302.70 334.70V337.51M302.26 334.33H302.70M303.22 335.49V341.34M302.70 335.00H303.22M303.62 336.10V341.17M303.22 335.79H303.62M304.00 336.66V345.67M303.62 336.40H304.00M304.39 337.26V346.59M304.00 336.96H304.39M304.81 337.90V348.42M304.39 337.56H304.81M305.26 338.58V364.64M304.81 338.20H305.26M305.66 339.18V356.90M305.26 338.88H305.66M306.09 339.84V351.15M305.66 339.48H306.09M306.64 340.66V347.41M306.09 340.14H306.64M307.09 341.34V354.75M306.64 340.96H307.09M307.51 341.97V367.14M307.09 341.64H307.51M307.94 342.63V357.42M307.51 342.27H307.94M308.35 343.25V352.95M307.94 342.93H308.35M308.81 343.95V350.56M308.35 343.55H308.81M309.32 344.72V360.81M308.81 344.25H309.32M309.79 345.44V349.83M309.32 345.02H309.79M310.18 346.02V373.51M309.79 345.74H310.18M310.60 346.66V353.86M310.18 346.32H310.60M311.08 347.38V362.11M310.60 346.96H311.08M311.50 348.02V350.18M311.08 347.68H311.50M311.91 348.64V359.79M311.50 348.32H311.91M312.33 349.27V378.30M311.91 348.94H312.33M312.84 350.05V386.32M312.33 349.57H312.84M313.23 350.64V354.24M312.84 350.35H313.23M313.72 351.53V357.88M313.23 350.94H313.72M314.17 352.70V369.17M313.72 351.83H314.17M314.58 353.80V361.17M314.17 353.00H314.58M315.06 355.08V357.75M314.58 354.10H315.06M315.60 356.50V372.54M315.06 355.38H315.60M315.98 357.50V359.13M315.60 356.80H315.98M316.38 358.57V361.82M315.98 357.80H316.38M316.76 359.57V370.21M316.38 358.87H316.76M317.16 360.63V376.28M316.76 359.87H317.16M317.66 361.96V364.70M317.16 360.93H317.66M318.15 363.27V366.45M317.66 362.26H318.15M318.67 364.65V370.04M318.15 363.57H318.67M319.05 365.65V379.55M318.67 364.95H319.05M319.42 366.64V369.04M319.05 365.95H319.42M319.94 368.01V384.45M319.42 366.94H319.94M320.44 369.55V376.03M319.94 368.31H320.44M320.88 371.09V382.35M320.44 369.85H320.88M321.30 372.55V385.88M320.88 371.39H321.30M321.75 374.11V385.31M321.30 372.85H321.75M322.25 375.87V385.56M321.75 374.41H322.25M322.71 377.44V382.00M322.25 376.17H322.71M323.15 379.00V391.51M322.71 377.74H323.15M323.54 380.36V383.30M323.15 379.30H323.54M324.04 382.10V384.85M323.54 380.66H324.04M324.51 383.83V390.28M324.04 382.40H324.51M324.98 390.22V391.31M324.51 384.13H324.98M325.41 396.13V397.37M324.98 390.52H325.41M328.90 291.60V307.62M329.08 291.50V295.10M329.22 291.71V319.26M329.40 292.15V296.78M329.73 292.81V295.71M329.92 291.95V305.25M330.10 293.55V303.27M330.24 292.06V302.72M330.42 294.17V303.98M330.64 292.20V299.90M330.82 294.99V298.34M330.94 292.30V311.20M331.12 295.58V301.24M331.24 292.40V301.60M331.42 296.68V299.75M331.54 292.50V317.63M331.72 297.87V300.44M332.11 299.43V306.47M332.24 292.74V300.45M332.42 300.65V307.43M332.71 301.81V309.90M333.08 303.32V311.52M333.23 293.08V298.66M333.41 304.62V314.55M333.64 293.22V314.57M333.82 306.47V317.48M334.06 293.37V330.46M334.24 308.83V318.30M334.39 293.48V315.32M334.57 310.71V315.51M334.76 293.61V315.60M334.94 312.77V315.16M335.13 293.73V331.56M335.31 314.84V326.78M335.56 293.88V312.62M335.74 317.21V321.35M335.93 294.00V317.85M336.11 319.29V324.90M336.35 294.15V313.12M336.53 322.26V325.49M336.75 294.25V348.14M336.93 325.08V335.20M337.10 294.33V333.13M337.28 327.59V332.95M337.43 294.40V347.04M337.61 330.02V341.94M337.74 294.47V332.50M337.92 332.26V336.86M338.06 294.54V327.18M338.24 334.54V347.56M338.66 337.55V350.63M336.50 294.20V297.40M336.68 294.10V302.63M336.88 294.28V322.49M337.06 294.49V300.52M337.26 294.36V319.62M337.44 294.88V297.23M337.57 294.43V297.63M337.75 295.21V303.52M337.91 294.51V306.33M338.09 295.56V302.62M338.26 294.58V320.38M338.44 295.92V302.76M338.74 296.23V299.96M338.86 294.71V305.51M339.04 296.54V303.46M339.19 294.78V306.25M339.37 296.87V304.23M339.48 294.85V304.09M339.66 297.18V308.47M339.85 294.93V299.34M340.03 298.40V311.74M340.24 295.01V306.60M340.42 299.73V302.82M340.67 295.11V302.30M340.85 301.18V311.14M340.97 295.17V299.89M341.15 302.19V309.62M341.29 295.24V310.26M341.47 303.27V314.95M341.84 304.55V311.58M342.26 306.43V309.50M342.48 295.50V325.29M342.66 309.91V320.61M342.78 295.57V338.78M342.96 312.60V321.77M343.08 295.63V315.67M343.26 315.19V325.55M343.56 317.86V326.38M343.71 295.77V335.75M343.89 320.72V327.99M344.01 295.83V329.03M344.19 323.40V326.59M344.38 295.91V329.19M344.56 326.64V329.55M344.79 296.00V348.35M344.97 331.43V344.08M345.08 296.07V324.36M345.26 335.12V346.56M345.49 296.15V339.63M345.67 340.25V348.83M345.83 296.23V342.08M346.01 344.64V349.70M346.24 296.32V323.44M346.42 349.91V353.33M346.66 296.41V320.91M346.84 355.21V359.94M348.00 296.70V302.59M348.18 296.60V298.90M348.37 297.08V305.92M348.55 296.98V308.68M348.67 297.38V301.33M348.85 297.28V300.95M349.03 297.75V308.75M349.21 297.65V308.93M349.46 298.19V318.17M349.64 298.09V308.21M349.86 298.59V304.72M350.04 298.49V302.23M350.44 298.90V309.93M350.64 299.40V318.11M350.82 299.30V305.08M351.02 299.78V307.08M351.20 299.68V302.13M351.36 300.13V309.64M351.54 300.03V304.47M351.68 300.46V303.66M351.86 300.36V302.66M352.10 300.88V313.24M352.28 300.78V304.68M352.41 301.20V305.97M352.59 301.10V309.34M352.96 301.47V305.68M353.20 302.04V305.24M353.38 301.94V308.49M353.63 302.57V310.50M353.81 302.47V312.54M353.93 302.94V306.96M354.11 302.84V306.39M354.22 303.30V320.62M354.40 303.20V306.48M354.56 303.72V327.67M354.74 303.62V310.93M354.88 304.11V317.60M355.06 304.01V306.53M355.46 304.51V308.72M355.59 304.99V329.44M355.77 304.89V312.10M356.01 305.51V324.61M356.19 305.41V312.73M356.36 305.93V309.13M356.54 305.83V310.69M356.65 306.30V316.21M356.83 306.20V312.93M356.98 306.70V333.39M357.16 306.60V312.96M357.41 307.23V325.32M357.59 307.13V311.24M357.71 307.60V327.43M357.89 307.50V310.06M358.11 308.10V321.14M358.29 308.00V314.26M358.50 308.26V327.74M358.68 309.34V312.90M359.07 310.97V319.83M359.40 312.36V323.94M359.57 308.46V339.94M359.75 313.83V316.59M359.86 308.52V334.21M360.04 315.04V319.44M360.29 308.60V317.09M360.47 316.84V319.18M360.60 308.66V328.03M360.78 318.84V321.89M361.02 308.74V317.76M361.20 323.64V332.02M361.44 308.82V336.42M361.62 328.41V331.86M361.87 308.90V334.79M362.05 333.28V342.45M362.23 308.97V340.90M362.41 338.92V347.25M362.53 309.02V356.09M362.71 344.41V346.85M362.90 309.09V380.59M363.08 351.23V358.30M363.22 309.16V343.53M363.40 357.14V360.51M364.50 309.30V325.65M364.90 309.70V317.75M364.50 309.60H364.90M365.36 310.15V331.89M364.90 310.00H365.36M365.86 310.65V321.99M365.36 310.45H365.86M366.36 311.14V314.56M365.86 310.95H366.36M366.80 311.58V319.30M366.36 311.44H366.80M367.27 312.04V317.77M366.80 311.88H367.27M367.72 312.49V320.34M367.27 312.34H367.72M368.23 313.00V326.16M367.72 312.79H368.23M368.73 313.50V337.60M368.23 313.30H368.73M369.26 314.02V317.79M368.73 313.80H369.26M369.63 314.39V323.29M369.26 314.32H369.63M370.14 314.90V326.02M369.63 314.69H370.14M370.51 315.26V326.71M370.14 315.20H370.51M370.88 315.63V343.64M370.51 315.56H370.88M371.36 316.10V353.66M370.88 315.93H371.36M371.72 316.45V329.09M371.36 316.40H371.72M372.19 316.92V327.07M371.72 316.75H372.19M372.58 317.31V322.44M372.19 317.22H372.58M372.94 317.67V327.39M372.58 317.61H372.94M373.45 318.17V320.83M372.94 317.97H373.45M373.82 318.54V323.78M373.45 318.47H373.82M374.29 319.01V331.16M373.82 318.84H374.29M374.73 319.45V322.11M374.29 319.31H374.73M375.17 319.88V329.46M374.73 319.75H375.17M375.56 320.27V363.06M375.17 320.18H375.56M376.04 320.77V324.89M375.56 320.57H376.04M376.44 321.37V323.72M376.04 321.07H376.44M376.88 322.04V338.50M376.44 321.67H376.88M377.30 322.66V333.36M376.88 322.34H377.30M377.77 323.37V341.93M377.30 322.96H377.77M378.24 324.08V368.22M377.77 323.67H378.24M378.72 324.81V330.12M378.24 324.38H378.72M379.15 325.45V335.88M378.72 325.11H379.15M379.56 326.08V331.52M379.15 325.75H379.56M380.09 326.88V337.69M379.56 326.38H380.09M380.61 327.66V342.24M380.09 327.18H380.61M381.03 328.29V332.26M380.61 327.96H381.03M381.40 328.85V352.36M381.03 328.59H381.40M381.91 329.62V341.23M381.40 329.15H381.91M382.32 330.24V350.91M381.91 329.92H382.32M382.73 330.86V341.52M382.32 330.54H382.73M383.21 331.59V355.53M382.73 331.16H383.21M383.67 332.27V343.21M383.21 331.89H383.67M384.13 332.97V341.63M383.67 332.57H384.13M384.61 333.69V350.79M384.13 333.27H384.61M385.07 334.39V342.49M384.61 333.99H385.07M385.53 335.09V341.97M385.07 334.69H385.53M385.99 335.78V367.77M385.53 335.39H385.99M386.42 336.60V358.50M385.99 336.08H386.42M386.86 337.56V341.32M386.42 336.90H386.86M387.38 338.70V356.85M386.86 337.86H387.38M387.82 339.68V348.34M387.38 339.00H387.82M388.20 340.52V349.09M387.82 339.98H388.20M388.67 341.55V379.65M388.20 340.82H388.67M389.17 342.66V344.63M388.67 341.85H389.17M389.67 343.76V351.69M389.17 342.96H389.67M390.05 344.60V348.07M389.67 344.06H390.05M390.46 345.52V364.38M390.05 344.90H390.46M390.90 346.47V348.61M390.46 345.82H390.90M391.42 348.21V354.55M390.90 346.77H391.42M391.86 349.77V367.10M391.42 348.51H391.86M392.24 351.12V357.06M391.86 350.07H392.24M392.68 352.71V355.62M392.24 351.42H392.68M393.09 354.18V357.93M392.68 353.01H393.09M393.48 355.56V360.38M393.09 354.48H393.48M395.90 275.50V327.80M396.30 275.50V322.84M396.70 275.50V328.73M397.10 275.50V331.72M397.50 275.50V349.55M397.90 275.50V338.01M398.30 275.50V354.80M398.70 275.50V364.50M399.30 275.50V405.00M399.00 275.50V384.00M398.70 275.50V362.00M120.00 276.30H252.00M120.00 276.80H252.00M250.00 275.40H397.50M200.00 277.30H330.00M262.00 279.00H397.00M269.00 290.90H328.80M300.00 293.60H336.50M328.80 279.00V291.60M340.00 296.00H348.00M312.50 349.40H328.10M314.00 352.20H327.20M328.10 349.40V372.00M327.20 352.20V370.00" stroke="#000" stroke-width="0.6" fill="none"/>
<path d="M244.00 279.50L244.47 279.60L244.97 279.70L245.46 279.80L245.90 279.90L246.33 279.99L246.73 280.07L247.23 280.17L247.80 280.29L248.34 280.40L248.75 280.49L249.25 280.59L249.76 280.70L250.20 280.79L250.65 280.89L251.07 280.97L251.48 281.06L251.98 281.16L252.56 281.28L252.98 281.37L253.44 281.47L253.86 281.55L254.29 281.64L254.73 281.73L255.20 281.83L255.71 281.94M256.00 283.20L256.47 283.52L257.03 283.91L257.60 284.31L258.19 284.72L258.67 285.05L259.18 285.40L259.68 285.75L260.27 286.16L260.80 286.52L261.38 286.92L261.83 287.24L262.34 287.59L262.79 287.90L263.38 288.31L263.91 288.68L264.50 289.09L264.99 289.43L265.42 289.72L265.90 290.05L266.32 290.34L266.84 290.70L267.28 291.01L267.79 291.36L268.25 291.68L268.75 292.03L269.16 292.80L269.60 294.54L270.06 296.30L270.62 299.16L271.19 304.90L271.67 309.67L272.09 314.28L272.64 322.16L273.11 328.92M274.40 293.00L274.90 293.93L275.36 294.77L275.90 295.76L276.26 296.44L276.72 297.29L277.17 298.11L277.65 299.00L278.10 299.83L278.54 300.64L278.97 301.43L279.43 302.28L279.85 303.07L280.33 303.94L280.75 304.73L281.30 305.53L281.83 306.24L282.31 306.87L282.82 307.55L283.28 308.17L283.72 308.75L284.15 309.33L284.62 309.94L285.06 310.53L285.59 311.24L286.04 311.83L286.47 312.41L286.87 312.94L287.39 313.63L287.92 314.34L288.47 315.07L288.87 315.60L289.33 316.21L289.81 316.86L290.36 317.59L290.81 318.18L291.30 318.84L291.83 319.54L292.23 320.15L292.65 320.78L293.20 321.62L293.59 322.21L293.98 322.79L294.44 323.50L294.96 324.28L295.47 325.05L295.90 325.71L296.29 326.29L296.72 326.94L297.10 327.52L297.64 328.34L298.05 328.97L298.58 329.76L299.10 330.55L299.64 331.37L300.05 332.00L300.46 332.61L300.92 333.31L301.32 333.91L301.87 334.74L302.26 335.33L302.70 336.00L303.22 336.79L303.62 337.40L304.00 337.96L304.39 338.56L304.81 339.20L305.26 339.88L305.66 340.48L306.09 341.14L306.64 341.96L307.09 342.64L307.51 343.27L307.94 343.93L308.35 344.55L308.81 345.25L309.32 346.02L309.79 346.74L310.18 347.32L310.60 347.96L311.08 348.68L311.50 349.32L311.91 349.94L312.33 350.57L312.84 351.35L313.23 351.94L313.72 352.83L314.17 354.00L314.58 355.10L315.06 356.38L315.60 357.80L315.98 358.80L316.38 359.87L316.76 360.87L317.16 361.93L317.66 363.26L318.15 364.57L318.67 365.95L319.05 366.95L319.42 367.94L319.94 369.31L320.44 370.85L320.88 372.39L321.30 373.85L321.75 375.41L322.25 377.17L322.71 378.74L323.15 380.30L323.54 381.66L324.04 383.40L324.51 385.13L324.98 391.52L325.41 397.43M328.90 292.50L336.50 295.10L348.00 297.60L353.00 302.70L358.20 309.10L364.50 310.30M364.50 310.60L364.90 311.00L365.36 311.45L365.86 311.95L366.36 312.44L366.80 312.88L367.27 313.34L367.72 313.79L368.23 314.30L368.73 314.80L369.26 315.32L369.63 315.69L370.14 316.20L370.51 316.56L370.88 316.93L371.36 317.40L371.72 317.75L372.19 318.22L372.58 318.61L372.94 318.97L373.45 319.47L373.82 319.84L374.29 320.31L374.73 320.75L375.17 321.18L375.56 321.57L376.04 322.07L376.44 322.67L376.88 323.34L377.30 323.96L377.77 324.67L378.24 325.38L378.72 326.11L379.15 326.75L379.56 327.38L380.09 328.18L380.61 328.96L381.03 329.59L381.40 330.15L381.91 330.92L382.32 331.54L382.73 332.16L383.21 332.89L383.67 333.57L384.13 334.27L384.61 334.99L385.07 335.69L385.53 336.39L385.99 337.08L386.42 337.90L386.86 338.86L387.38 340.00L387.82 340.98L388.20 341.82L388.67 342.85L389.17 343.96L389.67 345.06L390.05 345.90L390.46 346.82L390.90 347.77L391.42 349.51L391.86 351.07L392.24 352.42L392.68 354.01L393.09 355.48L393.48 356.86" stroke="#000" stroke-width="1.9" fill="none" stroke-linejoin="round"/>
<path d="M328.90 292.20L329.22 292.85L329.55 293.51L329.92 294.25L330.24 294.87L330.64 295.69L330.94 296.28L331.24 297.38L331.54 298.57L331.93 300.13L332.24 301.35L332.53 302.51L332.90 304.02L333.23 305.32L333.64 307.17L334.06 309.53L334.39 311.41L334.76 313.47L335.13 315.54L335.56 317.91L335.93 319.99L336.35 322.96L336.75 325.78L337.10 328.29L337.43 330.72L337.74 332.96L338.06 335.24L338.48 338.25M336.50 294.80L336.88 295.19L337.26 295.58L337.57 295.91L337.91 296.26L338.26 296.62L338.56 296.93L338.86 297.24L339.19 297.57L339.48 297.88L339.85 299.10L340.24 300.43L340.67 301.88L340.97 302.89L341.29 303.97L341.66 305.25L342.08 307.13L342.48 310.61L342.78 313.30L343.08 315.89L343.38 318.56L343.71 321.42L344.01 324.10L344.38 327.34L344.79 332.13L345.08 335.82L345.49 340.95L345.83 345.34L346.24 350.61L346.66 355.91M348.00 297.30L348.37 297.68L348.67 297.98L349.03 298.35L349.46 298.79L349.86 299.19L350.26 299.60L350.64 300.00L351.02 300.38L351.36 300.73L351.68 301.06L352.10 301.48L352.41 301.80L352.78 302.17L353.20 302.64L353.63 303.17L353.93 303.54L354.22 303.90L354.56 304.32L354.88 304.71L355.28 305.21L355.59 305.59L356.01 306.11L356.36 306.53L356.65 306.90L356.98 307.30L357.41 307.83L357.71 308.20L358.11 308.70L358.50 310.04L358.89 311.67L359.22 313.06L359.57 314.53L359.86 315.74L360.29 317.54L360.60 319.54L361.02 324.34L361.44 329.11L361.87 333.98L362.23 339.62L362.53 345.11L362.90 351.93L363.22 357.84" stroke="#000" stroke-width="1.0" fill="none" stroke-linejoin="round"/>
<rect x="62.3" y="276.4" width="65.7" height="5.3" fill="#000"/>
<g shape-rendering="auto">
<rect x="62.30" y="476.00" width="20.70" height="34.50" fill="#bebebe"/>
<rect x="72.20" y="476.00" width="0.35" height="34.50" fill="#777"/>
<rect x="77.35" y="476.00" width="0.30" height="34.50" fill="#8c8c8c"/>
<rect x="79.70" y="476.00" width="0.25" height="34.50" fill="#999"/>
<rect x="82.30" y="476.00" width="0.35" height="34.50" fill="#777"/>
<rect x="83.00" y="476.00" width="21.00" height="34.50" fill="#bebebe"/>
<rect x="91.78" y="476.00" width="0.25" height="34.50" fill="#b0d8b0"/>
<rect x="90.67" y="476.00" width="0.35" height="34.50" fill="#e8b0a8"/>
<rect x="90.75" y="476.00" width="0.38" height="34.50" fill="#e8b0a8"/>
<rect x="89.09" y="476.00" width="0.38" height="34.50" fill="#d8b0d8"/>
<rect x="95.57" y="476.00" width="0.31" height="34.50" fill="#b0d8b0"/>
<rect x="90.98" y="476.00" width="0.29" height="34.50" fill="#e0c8a0"/>
<rect x="95.85" y="476.00" width="0.23" height="34.50" fill="#e0c8a0"/>
<rect x="96.78" y="476.00" width="0.29" height="34.50" fill="#b0d8b0"/>
<rect x="84.65" y="476.00" width="0.42" height="34.50" fill="#d8b0d8"/>
<rect x="93.89" y="476.00" width="0.29" height="34.50" fill="#d8b0d8"/>
<rect x="96.22" y="476.00" width="0.43" height="34.50" fill="#e8b0a8"/>
<rect x="94.71" y="476.00" width="0.23" height="34.50" fill="#d8b0d8"/>
<rect x="91.99" y="476.00" width="0.38" height="34.50" fill="#d8b0d8"/>
<rect x="84.35" y="476.00" width="0.24" height="34.50" fill="#d8b0d8"/>
<rect x="93.58" y="476.00" width="0.32" height="34.50" fill="#e8b0a8"/>
<rect x="98.28" y="476.00" width="0.37" height="34.50" fill="#d8b0d8"/>
<rect x="104.00" y="476.00" width="16.60" height="34.50" fill="#bebebe"/>
<rect x="118.99" y="476.00" width="0.41" height="34.50" fill="#90e090"/>
<rect x="116.45" y="476.00" width="0.42" height="34.50" fill="#e090e0"/>
<rect x="107.60" y="476.00" width="0.29" height="34.50" fill="#f0a090"/>
<rect x="104.25" y="476.00" width="0.42" height="34.50" fill="#e090e0"/>
<rect x="116.30" y="476.00" width="0.28" height="34.50" fill="#f0c080"/>
<rect x="117.36" y="476.00" width="0.39" height="34.50" fill="#90b0f0"/>
<rect x="111.79" y="476.00" width="0.46" height="34.50" fill="#f0a090"/>
<rect x="116.11" y="476.00" width="0.42" height="34.50" fill="#f0c080"/>
<rect x="110.64" y="476.00" width="0.29" height="34.50" fill="#f0a090"/>
<rect x="106.34" y="476.00" width="0.51" height="34.50" fill="#90e090"/>
<rect x="120.00" y="476.00" width="0.31" height="34.50" fill="#90b0f0"/>
<rect x="108.41" y="476.00" width="0.55" height="34.50" fill="#90e090"/>
<rect x="110.26" y="476.00" width="0.28" height="34.50" fill="#80d0d0"/>
<rect x="112.94" y="476.00" width="0.51" height="34.50" fill="#f0c080"/>
<rect x="114.95" y="476.00" width="0.52" height="34.50" fill="#90e090"/>
<rect x="118.09" y="476.00" width="0.34" height="34.50" fill="#e090e0"/>
<rect x="108.14" y="476.00" width="0.51" height="34.50" fill="#90b0f0"/>
<rect x="107.38" y="476.00" width="0.29" height="34.50" fill="#80d0d0"/>
<rect x="111.54" y="476.00" width="0.36" height="34.50" fill="#e090e0"/>
<rect x="106.28" y="476.00" width="0.46" height="34.50" fill="#90e090"/>
<rect x="118.98" y="476.00" width="0.31" height="34.50" fill="#f0c080"/>
<rect x="115.78" y="476.00" width="0.45" height="34.50" fill="#f0a090"/>
<rect x="120.60" y="476.00" width="5.30" height="34.50" fill="#a0c8a0"/>
<rect x="122.54" y="476.00" width="0.57" height="34.50" fill="#60c0c0"/>
<rect x="120.76" y="476.00" width="0.71" height="34.50" fill="#f09080"/>
<rect x="121.94" y="476.00" width="0.70" height="34.50" fill="#f09080"/>
<rect x="123.32" y="476.00" width="0.70" height="34.50" fill="#c0c0c0"/>
<rect x="124.09" y="476.00" width="0.50" height="34.50" fill="#f09080"/>
<rect x="120.86" y="476.00" width="0.74" height="34.50" fill="#c0c0c0"/>
<rect x="121.17" y="476.00" width="0.73" height="34.50" fill="#f09080"/>
<rect x="120.93" y="476.00" width="0.73" height="34.50" fill="#60c0c0"/>
<rect x="120.67" y="476.00" width="0.55" height="34.50" fill="#60c0c0"/>
<rect x="121.36" y="476.00" width="0.67" height="34.50" fill="#f09080"/>
<rect x="125.90" y="476.00" width="2.10" height="34.50" fill="#a0452d"/>
<rect x="128.00" y="476.00" width="2.00" height="34.50" fill="#8b3a1a"/>
<rect x="127.70" y="476.00" width="0.50" height="34.50" fill="#d08060"/>
<rect x="130.00" y="476.00" width="1.60" height="34.50" fill="#4878e0"/>
<rect x="131.60" y="476.00" width="1.00" height="34.50" fill="#b4a0f0"/>
<rect x="132.60" y="476.00" width="2.70" height="34.50" fill="#ff50ff"/>
<rect x="135.30" y="476.00" width="0.50" height="34.50" fill="#f0d8ff"/>
<rect x="135.80" y="476.00" width="6.50" height="34.50" fill="#000"/>
<rect x="142.30" y="476.00" width="1.60" height="34.50" fill="#4080f0"/>
<rect x="143.90" y="476.00" width="1.40" height="34.50" fill="#80d0ff"/>
<rect x="145.30" y="476.00" width="10.00" height="34.50" fill="#ffff00"/>
<rect x="155.30" y="476.00" width="1.90" height="34.50" fill="#8070b0"/>
<rect x="157.20" y="476.00" width="1.40" height="34.50" fill="#b4b4b4"/>
<rect x="158.60" y="476.00" width="5.50" height="34.50" fill="#ff8072"/>
<rect x="164.10" y="476.00" width="0.90" height="34.50" fill="#a098c0"/>
<rect x="165.00" y="476.00" width="0.90" height="34.50" fill="#8888a8"/>
<rect x="165.90" y="476.00" width="1.40" height="34.50" fill="#101070"/>
<rect x="167.30" y="476.00" width="1.00" height="34.50" fill="#3050e0"/>
<rect x="168.30" y="476.00" width="2.40" height="34.50" fill="#30e0a0"/>
<rect x="170.70" y="476.00" width="1.80" height="34.50" fill="#ff8000"/>
<rect x="172.50" y="476.00" width="5.50" height="34.50" fill="#70ff00"/>
<rect x="178.00" y="476.00" width="1.90" height="34.50" fill="#306020"/>
<rect x="179.90" y="476.00" width="1.90" height="34.50" fill="#c8e488"/>
<rect x="181.80" y="476.00" width="6.70" height="34.50" fill="#ffffe8"/>
<rect x="188.50" y="476.00" width="4.00" height="34.50" fill="#ffa500"/>
<rect x="192.50" y="476.00" width="2.40" height="34.50" fill="#ff70ff"/>
<rect x="194.90" y="476.00" width="3.50" height="34.50" fill="#00ffff"/>
<rect x="198.40" y="476.00" width="3.40" height="34.50" fill="#999"/>
<rect x="201.80" y="476.00" width="2.10" height="34.50" fill="#00f0f0"/>
<rect x="203.90" y="476.00" width="1.10" height="34.50" fill="#9a90b0"/>
<rect x="205.00" y="476.00" width="1.40" height="34.50" fill="#10e8e8"/>
<rect x="206.40" y="476.00" width="1.40" height="34.50" fill="#e070e0"/>
<rect x="207.80" y="476.00" width="1.40" height="34.50" fill="#40d8b0"/>
<rect x="209.20" y="476.00" width="1.70" height="34.50" fill="#4a80c8"/>
<rect x="210.90" y="476.00" width="2.10" height="34.50" fill="#8a88b8"/>
<rect x="213.00" y="476.00" width="2.00" height="34.50" fill="#3a6ae0"/>
<rect x="215.00" y="476.00" width="1.40" height="34.50" fill="#7aa0a8"/>
<rect x="216.40" y="476.00" width="1.50" height="34.50" fill="#3060e0"/>
<rect x="217.90" y="476.00" width="2.70" height="34.50" fill="#6a98b8"/>
<rect x="220.60" y="476.00" width="3.50" height="34.50" fill="#a00808"/>
<rect x="224.10" y="476.00" width="2.40" height="34.50" fill="#6080c0"/>
<rect x="226.50" y="476.00" width="2.50" height="34.50" fill="#70a0d0"/>
<rect x="229.00" y="476.00" width="1.70" height="34.50" fill="#8098b0"/>
<rect x="230.70" y="476.00" width="2.20" height="34.50" fill="#1080b0"/>
<rect x="232.90" y="476.00" width="2.80" height="34.50" fill="#eaffff"/>
<rect x="235.70" y="476.00" width="5.10" height="34.50" fill="#ff00ff"/>
<rect x="240.80" y="476.00" width="4.70" height="34.50" fill="#b828fa"/>
<rect x="211.60" y="476.00" width="0.30" height="34.50" fill="#5060c0"/>
<rect x="218.60" y="476.00" width="0.30" height="34.50" fill="#3a78c8"/>
<rect x="225.20" y="476.00" width="0.30" height="34.50" fill="#90a8d8"/>
<rect x="227.60" y="476.00" width="0.30" height="34.50" fill="#5080c0"/>
<rect x="245.50" y="476.00" width="3.60" height="34.50" fill="#a0a4a8"/>
<rect x="249.10" y="476.00" width="2.40" height="34.50" fill="#4080c0"/>
<rect x="251.50" y="476.00" width="5.20" height="34.50" fill="#10c8c8"/>
<rect x="256.70" y="476.00" width="2.10" height="34.50" fill="#3080c0"/>
<rect x="258.80" y="476.00" width="2.80" height="34.50" fill="#20a8c0"/>
<rect x="261.60" y="476.00" width="5.50" height="34.50" fill="#3088c8"/>
<rect x="264.88" y="476.00" width="0.64" height="34.50" fill="#2070a8"/>
<rect x="264.16" y="476.00" width="0.70" height="34.50" fill="#4078c0"/>
<rect x="266.31" y="476.00" width="0.37" height="34.50" fill="#4078c0"/>
<rect x="263.90" y="476.00" width="0.56" height="34.50" fill="#4078c0"/>
<rect x="266.17" y="476.00" width="0.69" height="34.50" fill="#50a8d0"/>
<rect x="265.84" y="476.00" width="0.41" height="34.50" fill="#50a8d0"/>
<rect x="267.10" y="476.00" width="0.90" height="34.50" fill="#c04848"/>
<rect x="268.00" y="476.00" width="1.90" height="34.50" fill="#20a0c0"/>
<rect x="269.90" y="476.00" width="4.40" height="34.50" fill="#f2b27e"/>
<rect x="274.30" y="476.00" width="3.60" height="34.50" fill="#2020f4"/>
<rect x="277.90" y="476.00" width="2.10" height="34.50" fill="#101060"/>
<rect x="280.00" y="476.00" width="4.80" height="34.50" fill="#3c36f6"/>
<rect x="284.80" y="476.00" width="5.60" height="34.50" fill="#2828f8"/>
<rect x="285.57" y="476.00" width="0.64" height="34.50" fill="#5050ff"/>
<rect x="285.45" y="476.00" width="0.76" height="34.50" fill="#5050ff"/>
<rect x="286.23" y="476.00" width="0.72" height="34.50" fill="#5050ff"/>
<rect x="288.68" y="476.00" width="0.74" height="34.50" fill="#4444ff"/>
<rect x="285.57" y="476.00" width="0.58" height="34.50" fill="#1c1cd8"/>
<rect x="289.12" y="476.00" width="0.46" height="34.50" fill="#5050ff"/>
<rect x="281.60" y="476.00" width="0.40" height="34.50" fill="#2c2ce0"/>
<rect x="283.20" y="476.00" width="0.40" height="34.50" fill="#6a5ae0"/>
<rect x="290.60" y="476.00" width="3.40" height="34.50" fill="#2080e0"/>
<rect x="294.00" y="476.00" width="2.40" height="34.50" fill="#ffc8c0"/>
<rect x="296.40" y="476.00" width="31.30" height="34.50" fill="#0000ff"/>
<rect x="327.70" y="476.00" width="1.70" height="34.50" fill="#20a0a0"/>
<rect x="329.40" y="476.00" width="8.10" height="34.50" fill="#00ff00"/>
<rect x="337.50" y="476.00" width="1.10" height="34.50" fill="#e08060"/>
<rect x="338.60" y="476.00" width="1.20" height="34.50" fill="#c03020"/>
<rect x="339.80" y="476.00" width="3.50" height="34.50" fill="#1f7a1f"/>
<rect x="343.30" y="476.00" width="4.70" height="34.50" fill="#ff0000"/>
<rect x="348.00" y="476.00" width="10.40" height="34.50" fill="#20c0d0"/>
<rect x="354.28" y="476.00" width="0.97" height="34.50" fill="#40d0d8"/>
<rect x="348.32" y="476.00" width="0.63" height="34.50" fill="#30c8c8"/>
<rect x="350.88" y="476.00" width="0.49" height="34.50" fill="#10a8c0"/>
<rect x="349.47" y="476.00" width="0.52" height="34.50" fill="#40d0d8"/>
<rect x="354.61" y="476.00" width="0.66" height="34.50" fill="#10a8c0"/>
<rect x="351.51" y="476.00" width="0.42" height="34.50" fill="#40d0d8"/>
<rect x="356.83" y="476.00" width="1.00" height="34.50" fill="#10a8c0"/>
<rect x="351.42" y="476.00" width="0.57" height="34.50" fill="#30c8c8"/>
<rect x="358.40" y="476.00" width="5.80" height="34.50" fill="#c22222"/>
<rect x="364.20" y="476.00" width="30.10" height="34.50" fill="#00e0d0"/>
<rect x="394.30" y="476.00" width="5.70" height="34.50" fill="#80d4f0"/>
<rect x="397.20" y="476.00" width="1.00" height="34.50" fill="#a0c0d0"/>
<rect x="62.30" y="510.50" width="20.70" height="34.90" fill="#bebebe"/>
<rect x="72.20" y="510.50" width="0.35" height="34.90" fill="#777"/>
<rect x="77.35" y="510.50" width="0.30" height="34.90" fill="#8c8c8c"/>
<rect x="79.70" y="510.50" width="0.25" height="34.90" fill="#999"/>
<rect x="82.30" y="510.50" width="0.35" height="34.90" fill="#777"/>
<rect x="83.00" y="510.50" width="21.00" height="34.90" fill="#bebebe"/>
<rect x="101.79" y="510.50" width="0.42" height="34.90" fill="#a8c0e0"/>
<rect x="100.87" y="510.50" width="0.32" height="34.90" fill="#e0c8a0"/>
<rect x="98.62" y="510.50" width="0.35" height="34.90" fill="#a8c0e0"/>
<rect x="88.63" y="510.50" width="0.23" height="34.90" fill="#a8c0e0"/>
<rect x="89.19" y="510.50" width="0.34" height="34.90" fill="#e0c8a0"/>
<rect x="102.98" y="510.50" width="0.35" height="34.90" fill="#a8c0e8"/>
<rect x="86.16" y="510.50" width="0.25" height="34.90" fill="#a8c0e8"/>
<rect x="89.93" y="510.50" width="0.21" height="34.90" fill="#d8b0d8"/>
<rect x="89.82" y="510.50" width="0.32" height="34.90" fill="#a8c0e8"/>
<rect x="99.35" y="510.50" width="0.24" height="34.90" fill="#a8c0e8"/>
<rect x="97.91" y="510.50" width="0.40" height="34.90" fill="#d8b0d8"/>
<rect x="94.46" y="510.50" width="0.22" height="34.90" fill="#a8c0e0"/>
<rect x="92.53" y="510.50" width="0.35" height="34.90" fill="#e8b0a8"/>
<rect x="95.04" y="510.50" width="0.21" height="34.90" fill="#d8b0d8"/>
<rect x="85.72" y="510.50" width="0.36" height="34.90" fill="#e0c8a0"/>
<rect x="84.57" y="510.50" width="0.41" height="34.90" fill="#a8c0e0"/>
<rect x="104.00" y="510.50" width="16.60" height="34.90" fill="#bebebe"/>
<rect x="114.76" y="510.50" width="0.36" height="34.90" fill="#f0a090"/>
<rect x="117.69" y="510.50" width="0.35" height="34.90" fill="#a0c0ff"/>
<rect x="108.25" y="510.50" width="0.34" height="34.90" fill="#f0a090"/>
<rect x="105.88" y="510.50" width="0.51" height="34.90" fill="#a0c0ff"/>
<rect x="112.80" y="510.50" width="0.33" height="34.90" fill="#80a8f0"/>
<rect x="106.66" y="510.50" width="0.39" height="34.90" fill="#f0c080"/>
<rect x="108.19" y="510.50" width="0.26" height="34.90" fill="#90b0f0"/>
<rect x="113.03" y="510.50" width="0.34" height="34.90" fill="#90b0f0"/>
<rect x="115.68" y="510.50" width="0.52" height="34.90" fill="#f0c080"/>
<rect x="118.43" y="510.50" width="0.40" height="34.90" fill="#f0a090"/>
<rect x="104.88" y="510.50" width="0.28" height="34.90" fill="#80d0d0"/>
<rect x="115.15" y="510.50" width="0.42" height="34.90" fill="#90b0f0"/>
<rect x="106.80" y="510.50" width="0.28" height="34.90" fill="#80a8f0"/>
<rect x="110.81" y="510.50" width="0.55" height="34.90" fill="#f0c080"/>
<rect x="108.73" y="510.50" width="0.41" height="34.90" fill="#f0a090"/>
<rect x="113.44" y="510.50" width="0.28" height="34.90" fill="#90b0f0"/>
<rect x="116.61" y="510.50" width="0.32" height="34.90" fill="#f0c080"/>
<rect x="105.00" y="510.50" width="0.46" height="34.90" fill="#90b0f0"/>
<rect x="109.51" y="510.50" width="0.27" height="34.90" fill="#f0a090"/>
<rect x="114.10" y="510.50" width="0.26" height="34.90" fill="#80d0d0"/>
<rect x="108.95" y="510.50" width="0.30" height="34.90" fill="#f0a090"/>
<rect x="111.44" y="510.50" width="0.49" height="34.90" fill="#90b0f0"/>
<rect x="120.60" y="510.50" width="5.30" height="34.90" fill="#90b0e0"/>
<rect x="125.30" y="510.50" width="0.31" height="34.90" fill="#5080d0"/>
<rect x="120.75" y="510.50" width="0.69" height="34.90" fill="#b0c8f0"/>
<rect x="123.12" y="510.50" width="0.37" height="34.90" fill="#b0c8f0"/>
<rect x="122.30" y="510.50" width="0.38" height="34.90" fill="#b0c8f0"/>
<rect x="125.13" y="510.50" width="0.40" height="34.90" fill="#c0c0c0"/>
<rect x="120.91" y="510.50" width="0.65" height="34.90" fill="#6090e0"/>
<rect x="122.81" y="510.50" width="0.70" height="34.90" fill="#5080d0"/>
<rect x="122.16" y="510.50" width="0.56" height="34.90" fill="#6090e0"/>
<rect x="123.54" y="510.50" width="0.68" height="34.90" fill="#b0c8f0"/>
<rect x="120.83" y="510.50" width="0.73" height="34.90" fill="#c0c0c0"/>
<rect x="125.90" y="510.50" width="2.10" height="34.90" fill="#a0452d"/>
<rect x="128.00" y="510.50" width="2.00" height="34.90" fill="#8b3a1a"/>
<rect x="127.70" y="510.50" width="0.50" height="34.90" fill="#d08060"/>
<rect x="130.00" y="510.50" width="2.80" height="34.90" fill="#4868e0"/>
<rect x="132.80" y="510.50" width="2.50" height="34.90" fill="#ccdcdc"/>
<rect x="135.30" y="510.50" width="0.50" height="34.90" fill="#f0f4f4"/>
<rect x="135.80" y="510.50" width="6.50" height="34.90" fill="#000"/>
<rect x="142.30" y="510.50" width="1.60" height="34.90" fill="#3050e0"/>
<rect x="143.90" y="510.50" width="1.40" height="34.90" fill="#9090ff"/>
<rect x="145.30" y="510.50" width="10.00" height="34.90" fill="#ffff00"/>
<rect x="155.30" y="510.50" width="1.30" height="34.90" fill="#7060c0"/>
<rect x="156.60" y="510.50" width="0.60" height="34.90" fill="#4060e0"/>
<rect x="157.20" y="510.50" width="1.40" height="34.90" fill="#b4b4b4"/>
<rect x="158.60" y="510.50" width="5.50" height="34.90" fill="#ff8072"/>
<rect x="164.10" y="510.50" width="1.40" height="34.90" fill="#6060d0"/>
<rect x="165.50" y="510.50" width="1.80" height="34.90" fill="#b0b0b0"/>
<rect x="167.30" y="510.50" width="14.50" height="34.90" fill="#ff8c00"/>
<rect x="181.80" y="510.50" width="22.10" height="34.90" fill="#999999"/>
<rect x="203.90" y="510.50" width="3.10" height="34.90" fill="#e0ffff"/>
<rect x="207.00" y="510.50" width="1.80" height="34.90" fill="#ffa020"/>
<rect x="208.80" y="510.50" width="2.10" height="34.90" fill="#3f62e2"/>
<rect x="210.90" y="510.50" width="1.40" height="34.90" fill="#86b2f6"/>
<rect x="212.30" y="510.50" width="2.10" height="34.90" fill="#3a5ee6"/>
<rect x="214.40" y="510.50" width="1.40" height="34.90" fill="#9cc0fa"/>
<rect x="215.80" y="510.50" width="2.70" height="34.90" fill="#3c64ea"/>
<rect x="218.50" y="510.50" width="2.10" height="34.90" fill="#7eaef2"/>
<rect x="220.60" y="510.50" width="3.50" height="34.90" fill="#a00808"/>
<rect x="224.10" y="510.50" width="2.80" height="34.90" fill="#3050e0"/>
<rect x="226.90" y="510.50" width="2.80" height="34.90" fill="#80a0ff"/>
<rect x="229.70" y="510.50" width="1.30" height="34.90" fill="#d8f4ff"/>
<rect x="231.00" y="510.50" width="1.90" height="34.90" fill="#1080b0"/>
<rect x="209.80" y="510.50" width="0.30" height="34.90" fill="#80a8ff"/>
<rect x="213.20" y="510.50" width="0.30" height="34.90" fill="#7090f0"/>
<rect x="217.00" y="510.50" width="0.30" height="34.90" fill="#88aaff"/>
<rect x="225.40" y="510.50" width="0.30" height="34.90" fill="#6080f0"/>
<rect x="232.90" y="510.50" width="12.60" height="34.90" fill="#e0ffff"/>
<rect x="245.50" y="510.50" width="2.90" height="34.90" fill="#a0a0a4"/>
<rect x="248.40" y="510.50" width="1.00" height="34.90" fill="#e0b080"/>
<rect x="249.40" y="510.50" width="2.10" height="34.90" fill="#4050f0"/>
<rect x="251.50" y="510.50" width="5.00" height="34.90" fill="#10c8c8"/>
<rect x="256.50" y="510.50" width="1.60" height="34.90" fill="#5070f0"/>
<rect x="258.10" y="510.50" width="9.00" height="34.90" fill="#a0b8ff"/>
<rect x="258.87" y="510.50" width="0.69" height="34.90" fill="#6888f8"/>
<rect x="264.86" y="510.50" width="0.59" height="34.90" fill="#88a8ff"/>
<rect x="264.34" y="510.50" width="0.64" height="34.90" fill="#c0d4ff"/>
<rect x="264.05" y="510.50" width="0.43" height="34.90" fill="#6888f8"/>
<rect x="264.24" y="510.50" width="0.75" height="34.90" fill="#c0d4ff"/>
<rect x="265.10" y="510.50" width="0.52" height="34.90" fill="#6888f8"/>
<rect x="263.04" y="510.50" width="0.67" height="34.90" fill="#7090ff"/>
<rect x="264.89" y="510.50" width="0.33" height="34.90" fill="#6888f8"/>
<rect x="265.15" y="510.50" width="0.68" height="34.90" fill="#c0d4ff"/>
<rect x="262.04" y="510.50" width="0.40" height="34.90" fill="#c0d4ff"/>
<rect x="267.10" y="510.50" width="1.40" height="34.90" fill="#d0e0ff"/>
<rect x="268.50" y="510.50" width="9.40" height="34.90" fill="#0000ff"/>
<rect x="277.90" y="510.50" width="2.10" height="34.90" fill="#e0b080"/>
<rect x="280.00" y="510.50" width="47.70" height="34.90" fill="#0000ff"/>
<rect x="327.70" y="510.50" width="11.30" height="34.90" fill="#e0ffff"/>
<rect x="339.00" y="510.50" width="4.30" height="34.90" fill="#0010ff"/>
<rect x="340.80" y="510.50" width="0.50" height="34.90" fill="#6080ff"/>
<rect x="343.30" y="510.50" width="4.70" height="34.90" fill="#20c0d0"/>
<rect x="348.00" y="510.50" width="10.40" height="34.90" fill="#b4d2ff"/>
<rect x="353.66" y="510.50" width="0.56" height="34.90" fill="#80a8ff"/>
<rect x="348.49" y="510.50" width="0.57" height="34.90" fill="#80a8ff"/>
<rect x="355.83" y="510.50" width="0.54" height="34.90" fill="#80a8ff"/>
<rect x="351.38" y="510.50" width="0.53" height="34.90" fill="#d0e4ff"/>
<rect x="348.87" y="510.50" width="0.42" height="34.90" fill="#80a8ff"/>
<rect x="355.84" y="510.50" width="0.50" height="34.90" fill="#80a8ff"/>
<rect x="356.30" y="510.50" width="0.48" height="34.90" fill="#d0e4ff"/>
<rect x="352.94" y="510.50" width="0.30" height="34.90" fill="#4169e1"/>
<rect x="358.40" y="510.50" width="5.80" height="34.90" fill="#0000ff"/>
<rect x="364.20" y="510.50" width="30.10" height="34.90" fill="#e0ffff"/>
<rect x="394.30" y="510.50" width="5.70" height="34.90" fill="#80d4f0"/>
<rect x="397.20" y="510.50" width="1.00" height="34.90" fill="#a0c0d0"/>
</g>
<line x1="62.3" y1="476.0" x2="400.0" y2="476.0" stroke="#3a3a3a" stroke-width="0.8"/>
<line x1="62.3" y1="510.5" x2="400.0" y2="510.5" stroke="#3a3a3a" stroke-width="0.8"/>
<line x1="62.3" y1="545.4" x2="400.0" y2="545.4" stroke="#3a3a3a" stroke-width="0.8"/>
</svg>
</body>
</html>
